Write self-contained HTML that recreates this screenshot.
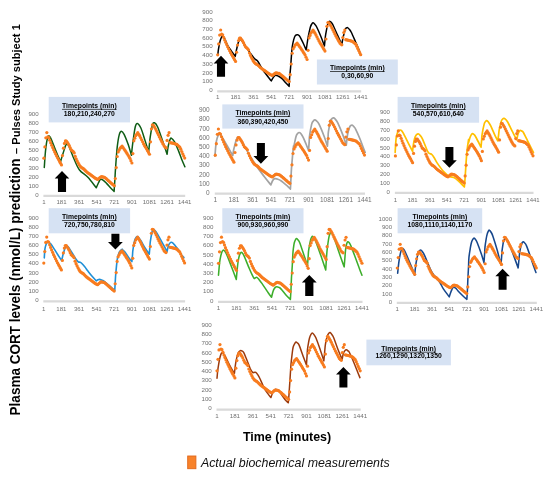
<!DOCTYPE html>
<html lang="en"><head><meta charset="utf-8"><title>Plasma CORT levels prediction</title>
<style>html,body{margin:0;padding:0;background:#fff}body{width:550px;height:477px;overflow:hidden}svg{display:block}</style>
</head><body>
<svg width="550" height="477" viewBox="0 0 550 477" font-family="'Liberation Sans', Arial, sans-serif">
<rect width="550" height="477" fill="#ffffff"/>
<rect x="316.9" y="59.5" width="80.9" height="25" fill="#d6e2f3"/>
<rect x="48.7" y="96.9" width="81.3" height="25.5" fill="#d6e2f3"/>
<rect x="222.3" y="104.4" width="81.2" height="24.2" fill="#d6e2f3"/>
<rect x="397.6" y="96.9" width="81.5" height="25.8" fill="#d6e2f3"/>
<rect x="48.7" y="208.2" width="81.4" height="25.1" fill="#d6e2f3"/>
<rect x="222.3" y="208.2" width="81.2" height="25.1" fill="#d6e2f3"/>
<rect x="397.6" y="208.2" width="84.6" height="25.1" fill="#d6e2f3"/>
<rect x="366.4" y="339.6" width="84.5" height="25.7" fill="#d6e2f3"/>
<g>
<g font-size="6.2" fill="#707070" text-anchor="end">
<text x="212.6" y="92.13">0</text>
<text x="212.6" y="83.4">100</text>
<text x="212.6" y="74.67">200</text>
<text x="212.6" y="65.93">300</text>
<text x="212.6" y="57.2">400</text>
<text x="212.6" y="48.47">500</text>
<text x="212.6" y="39.73">600</text>
<text x="212.6" y="31">700</text>
<text x="212.6" y="22.27">800</text>
<text x="212.6" y="13.53">900</text>
</g>
<line x1="217.2" y1="91.4" x2="361.2" y2="91.4" stroke="#d9d9d9" stroke-width="2.2"/>
<g font-size="6.2" fill="#707070" text-anchor="middle">
<text x="217.7" y="99.43">1</text>
<text x="235.57" y="99.43">181</text>
<text x="253.45" y="99.43">361</text>
<text x="271.32" y="99.43">541</text>
<text x="289.2" y="99.43">721</text>
<text x="307.07" y="99.43">901</text>
<text x="324.95" y="99.43">1081</text>
<text x="342.82" y="99.43">1261</text>
<text x="360.7" y="99.43">1441</text>
</g>
<path d="M217.82 54.9C217.92 53.99 218.2 51.12 218.45 49.44C218.69 47.77 218.94 46.47 219.29 44.83C219.64 43.19 220.09 40.99 220.55 39.59C221 38.19 221.52 36.87 222.01 36.45C222.5 36.03 222.96 36.55 223.48 37.08C224 37.6 224.53 38.3 225.16 39.59C225.79 40.88 226.21 42.91 227.25 44.83C228.3 46.75 230.12 49.2 231.45 51.12C232.77 53.04 234.59 55.49 235.22 56.36L235.22 56.36C235.36 55.66 235.81 53.39 236.06 52.17C236.3 50.95 236.3 50.67 236.69 49.03C237.07 47.38 237.77 43.89 238.36 42.32C238.96 40.74 239.66 39.87 240.25 39.59C240.85 39.31 241.3 39.94 241.93 40.64C242.56 41.34 242.98 42.21 244.03 43.78C245.07 45.36 246.82 48.05 248.22 50.07C249.62 52.1 251.29 54.44 252.41 55.94C253.53 57.45 254.23 58.39 254.93 59.09C255.63 59.79 256.04 59.65 256.6 60.14C257.16 60.63 257.23 60.38 258.28 62.02C259.33 63.67 260.73 66.84 262.89 69.99C265.06 73.13 269.88 79.07 271.28 80.89L271.28 80.89C271.63 80.3 272.68 78.27 273.38 77.33C274.07 76.38 274.6 75.41 275.47 75.23C276.35 75.06 277.57 75.75 278.62 76.28C279.66 76.8 280.54 77.26 281.76 78.38C282.98 79.49 284.73 81.66 285.95 82.99C287.18 84.32 288.57 85.78 289.1 86.34L289.1 86.34C289.2 84.66 289.48 79.35 289.73 76.28C289.97 73.2 290.29 71.21 290.57 67.89C290.85 64.57 291.13 59.86 291.4 56.36C291.68 52.87 291.86 49.72 292.24 46.93C292.63 44.13 293.19 41.51 293.71 39.59C294.23 37.67 294.7 36.2 295.39 35.4C296.07 34.59 297.17 34.7 297.82 34.77C298.47 34.84 298.76 35.19 299.29 35.82C299.81 36.45 300.27 37.22 300.96 38.54C301.66 39.87 302.61 41.86 303.48 43.78C304.35 45.71 305.75 49.03 306.21 50.07L306.21 50.07C306.38 48.85 306.9 45.01 307.25 42.74C307.6 40.46 307.78 39.07 308.3 36.45C308.83 33.83 309.8 29.11 310.4 27.01C310.99 24.92 311.41 24.57 311.87 23.87C312.32 23.17 312.63 22.75 313.12 22.82C313.61 22.89 314.21 23.59 314.8 24.29C315.39 24.99 315.67 24.99 316.69 27.01C317.7 29.04 319.59 33.3 320.88 36.45C322.17 39.59 323.85 44.31 324.44 45.88L324.44 45.88C324.55 44.83 324.86 41.51 325.07 39.59C325.28 37.67 325.25 36.97 325.7 34.35C326.16 31.73 327.27 25.96 327.8 23.87C328.32 21.77 328.5 22.19 328.85 21.77C329.2 21.35 329.44 21.18 329.9 21.35C330.35 21.53 330.98 22.05 331.57 22.82C332.17 23.59 332.45 23.87 333.46 25.96C334.47 28.06 336.25 32.25 337.65 35.4C339.05 38.54 341.15 43.26 341.84 44.83L341.84 44.83C341.95 44.13 342.23 42.04 342.47 40.64C342.72 39.24 342.82 38.37 343.31 36.45C343.8 34.52 344.88 30.54 345.41 29.11C345.93 27.68 346.11 28.1 346.46 27.85C346.81 27.61 347.05 27.43 347.51 27.64C347.96 27.85 348.55 28.34 349.18 29.11C349.81 29.88 350.23 30.16 351.28 32.25C352.33 34.35 354.25 38.89 355.47 41.69C356.69 44.48 357.74 46.75 358.62 49.03C359.49 51.3 360.36 54.27 360.71 55.31" fill="none" stroke="#000000" stroke-width="1.5" stroke-linejoin="round" stroke-linecap="round"/>
<g fill="#f87c1f">
<circle cx="217.7" cy="54.81" r="1.6"/>
<circle cx="218.69" cy="43.89" r="1.6"/>
<circle cx="219.69" cy="35.07" r="1.6"/>
<circle cx="220.68" cy="30" r="1.6"/>
<circle cx="221.67" cy="34.2" r="1.6"/>
<circle cx="222.67" cy="34.81" r="1.6"/>
<circle cx="223.66" cy="37.36" r="1.6"/>
<circle cx="224.65" cy="39.9" r="1.6"/>
<circle cx="225.64" cy="42.27" r="1.6"/>
<circle cx="226.64" cy="44.52" r="1.6"/>
<circle cx="227.63" cy="46.77" r="1.6"/>
<circle cx="228.62" cy="48.75" r="1.6"/>
<circle cx="229.62" cy="50.73" r="1.6"/>
<circle cx="230.61" cy="52.71" r="1.6"/>
<circle cx="231.6" cy="54.53" r="1.6"/>
<circle cx="232.6" cy="56.24" r="1.6"/>
<circle cx="233.59" cy="57.96" r="1.6"/>
<circle cx="234.58" cy="59.7" r="1.6"/>
<circle cx="235.57" cy="61.44" r="1.6"/>
<circle cx="236.57" cy="52.27" r="1.6"/>
<circle cx="237.56" cy="45.11" r="1.6"/>
<circle cx="238.55" cy="40.48" r="1.6"/>
<circle cx="239.55" cy="38.13" r="1.6"/>
<circle cx="240.54" cy="38.16" r="1.6"/>
<circle cx="241.53" cy="39.56" r="1.6"/>
<circle cx="242.53" cy="40.96" r="1.6"/>
<circle cx="243.52" cy="42.68" r="1.6"/>
<circle cx="244.51" cy="44.91" r="1.6"/>
<circle cx="245.51" cy="46.85" r="1.6"/>
<circle cx="246.5" cy="47.66" r="1.6"/>
<circle cx="247.49" cy="48.48" r="1.6"/>
<circle cx="248.48" cy="49.78" r="1.6"/>
<circle cx="249.48" cy="53.02" r="1.6"/>
<circle cx="250.47" cy="55.38" r="1.6"/>
<circle cx="251.46" cy="57.51" r="1.6"/>
<circle cx="252.46" cy="59.35" r="1.6"/>
<circle cx="253.45" cy="61.18" r="1.6"/>
<circle cx="254.44" cy="62.55" r="1.6"/>
<circle cx="255.44" cy="63.6" r="1.6"/>
<circle cx="256.43" cy="64.18" r="1.6"/>
<circle cx="257.42" cy="64.76" r="1.6"/>
<circle cx="258.42" cy="65.51" r="1.6"/>
<circle cx="259.41" cy="66.5" r="1.6"/>
<circle cx="260.4" cy="67.49" r="1.6"/>
<circle cx="261.39" cy="68.36" r="1.6"/>
<circle cx="262.39" cy="69.04" r="1.6"/>
<circle cx="263.38" cy="69.73" r="1.6"/>
<circle cx="264.37" cy="70.42" r="1.6"/>
<circle cx="265.37" cy="71.11" r="1.6"/>
<circle cx="266.36" cy="71.81" r="1.6"/>
<circle cx="267.35" cy="72.52" r="1.6"/>
<circle cx="268.35" cy="73.23" r="1.6"/>
<circle cx="269.34" cy="73.93" r="1.6"/>
<circle cx="270.33" cy="74.51" r="1.6"/>
<circle cx="271.32" cy="75.08" r="1.6"/>
<circle cx="272.32" cy="75.51" r="1.6"/>
<circle cx="273.31" cy="74.71" r="1.6"/>
<circle cx="274.3" cy="73.91" r="1.6"/>
<circle cx="275.3" cy="73.11" r="1.6"/>
<circle cx="276.29" cy="72.82" r="1.6"/>
<circle cx="277.28" cy="73.04" r="1.6"/>
<circle cx="278.28" cy="73.26" r="1.6"/>
<circle cx="279.27" cy="73.47" r="1.6"/>
<circle cx="280.26" cy="74.23" r="1.6"/>
<circle cx="281.26" cy="75.04" r="1.6"/>
<circle cx="282.25" cy="75.85" r="1.6"/>
<circle cx="283.24" cy="76.66" r="1.6"/>
<circle cx="284.23" cy="77.51" r="1.6"/>
<circle cx="285.23" cy="78.39" r="1.6"/>
<circle cx="286.22" cy="79.26" r="1.6"/>
<circle cx="287.21" cy="80.08" r="1.6"/>
<circle cx="288.21" cy="80.85" r="1.6"/>
<circle cx="289.2" cy="81.62" r="1.6"/>
<circle cx="290.19" cy="74.63" r="1.6"/>
<circle cx="291.19" cy="63.98" r="1.6"/>
<circle cx="292.18" cy="53.24" r="1.6"/>
<circle cx="293.17" cy="48.87" r="1.6"/>
<circle cx="294.17" cy="46.99" r="1.6"/>
<circle cx="295.16" cy="45.11" r="1.6"/>
<circle cx="296.15" cy="44.15" r="1.6"/>
<circle cx="297.14" cy="43.19" r="1.6"/>
<circle cx="298.14" cy="44.58" r="1.6"/>
<circle cx="299.13" cy="45.96" r="1.6"/>
<circle cx="300.12" cy="47.35" r="1.6"/>
<circle cx="301.12" cy="48.73" r="1.6"/>
<circle cx="302.11" cy="50.25" r="1.6"/>
<circle cx="303.1" cy="51.78" r="1.6"/>
<circle cx="304.1" cy="53.32" r="1.6"/>
<circle cx="305.09" cy="55" r="1.6"/>
<circle cx="306.08" cy="57.26" r="1.6"/>
<circle cx="307.07" cy="59.52" r="1.6"/>
<circle cx="308.07" cy="50.35" r="1.6"/>
<circle cx="309.06" cy="37.95" r="1.6"/>
<circle cx="310.05" cy="35.42" r="1.6"/>
<circle cx="311.05" cy="32.89" r="1.6"/>
<circle cx="312.04" cy="31.49" r="1.6"/>
<circle cx="313.03" cy="30.09" r="1.6"/>
<circle cx="314.03" cy="31.66" r="1.6"/>
<circle cx="315.02" cy="33.22" r="1.6"/>
<circle cx="316.01" cy="35.03" r="1.6"/>
<circle cx="317.01" cy="37.01" r="1.6"/>
<circle cx="318" cy="38.99" r="1.6"/>
<circle cx="318.99" cy="40.96" r="1.6"/>
<circle cx="319.98" cy="42.67" r="1.6"/>
<circle cx="320.98" cy="44.3" r="1.6"/>
<circle cx="321.97" cy="45.94" r="1.6"/>
<circle cx="322.96" cy="47.57" r="1.6"/>
<circle cx="323.96" cy="49.31" r="1.6"/>
<circle cx="324.95" cy="51.05" r="1.6"/>
<circle cx="325.94" cy="39" r="1.6"/>
<circle cx="326.94" cy="26.34" r="1.6"/>
<circle cx="327.93" cy="22.58" r="1.6"/>
<circle cx="328.92" cy="22.84" r="1.6"/>
<circle cx="329.92" cy="24.43" r="1.6"/>
<circle cx="330.91" cy="26.02" r="1.6"/>
<circle cx="331.9" cy="27.94" r="1.6"/>
<circle cx="332.89" cy="29.95" r="1.6"/>
<circle cx="333.89" cy="31.95" r="1.6"/>
<circle cx="334.88" cy="33.95" r="1.6"/>
<circle cx="335.87" cy="35.88" r="1.6"/>
<circle cx="336.87" cy="37.68" r="1.6"/>
<circle cx="337.86" cy="39.49" r="1.6"/>
<circle cx="338.85" cy="41.29" r="1.6"/>
<circle cx="339.85" cy="43.1" r="1.6"/>
<circle cx="340.84" cy="44.02" r="1.6"/>
<circle cx="341.83" cy="44.85" r="1.6"/>
<circle cx="342.82" cy="37.6" r="1.6"/>
<circle cx="343.82" cy="32.62" r="1.6"/>
<circle cx="344.81" cy="30.09" r="1.6"/>
<circle cx="345.8" cy="39.7" r="1.6"/>
<circle cx="346.8" cy="39.9" r="1.6"/>
<circle cx="347.79" cy="40.11" r="1.6"/>
<circle cx="348.78" cy="40.31" r="1.6"/>
<circle cx="349.78" cy="40.59" r="1.6"/>
<circle cx="350.77" cy="40.86" r="1.6"/>
<circle cx="351.76" cy="41.14" r="1.6"/>
<circle cx="352.76" cy="41.53" r="1.6"/>
<circle cx="353.75" cy="42.41" r="1.6"/>
<circle cx="354.74" cy="43.28" r="1.6"/>
<circle cx="355.73" cy="44.15" r="1.6"/>
<circle cx="356.73" cy="46.13" r="1.6"/>
<circle cx="357.72" cy="48.38" r="1.6"/>
<circle cx="358.71" cy="50.59" r="1.6"/>
<circle cx="359.71" cy="52.66" r="1.6"/>
<circle cx="360.7" cy="54.72" r="1.6"/>
</g>
</g>
<g>
<g font-size="6.1" fill="#707070" text-anchor="end">
<text x="38.6" y="196.9">0</text>
<text x="38.6" y="187.91">100</text>
<text x="38.6" y="178.92">200</text>
<text x="38.6" y="169.93">300</text>
<text x="38.6" y="160.94">400</text>
<text x="38.6" y="151.95">500</text>
<text x="38.6" y="142.96">600</text>
<text x="38.6" y="133.98">700</text>
<text x="38.6" y="124.99">800</text>
<text x="38.6" y="116">900</text>
</g>
<line x1="43.4" y1="195.8" x2="185.2" y2="195.8" stroke="#d9d9d9" stroke-width="2.2"/>
<g font-size="6.1" fill="#707070" text-anchor="middle">
<text x="43.9" y="204.1">1</text>
<text x="61.5" y="204.1">181</text>
<text x="79.1" y="204.1">361</text>
<text x="96.7" y="204.1">541</text>
<text x="114.3" y="204.1">721</text>
<text x="131.9" y="204.1">901</text>
<text x="149.5" y="204.1">1081</text>
<text x="167.1" y="204.1">1261</text>
<text x="184.7" y="204.1">1441</text>
</g>
<path d="M44.29 167.47C44.43 165.45 44.85 158.74 45.13 155.31C45.41 151.89 45.65 149.44 45.96 146.93C46.28 144.41 46.66 141.97 47.01 140.22C47.36 138.47 47.68 137.15 48.06 136.45C48.45 135.75 48.9 135.78 49.32 136.03C49.74 136.27 49.74 136.1 50.58 137.91C51.42 139.73 53.2 144.13 54.35 146.93C55.5 149.72 56.45 152.24 57.49 154.69C58.54 157.13 60.12 160.45 60.64 161.6L60.64 161.6C60.88 160.73 61.58 158.11 62.11 156.36C62.63 154.62 63.23 152.87 63.78 151.12C64.34 149.37 64.94 147.1 65.46 145.88C65.99 144.66 66.44 143.89 66.93 143.78C67.42 143.68 67.87 144.38 68.4 145.25C68.92 146.13 69.1 146.65 70.07 149.03C71.05 151.4 72.69 156.01 74.27 159.51C75.84 163 77.24 167.02 79.51 169.99C81.78 172.96 85.1 174.36 87.89 177.33C90.69 180.3 94.88 186.06 96.28 187.81L96.28 187.81C96.63 187.01 97.68 184.39 98.38 182.99C99.07 181.59 99.7 179.91 100.47 179.42C101.24 178.93 101.94 179.35 102.99 180.05C104.04 180.75 105.43 182.25 106.76 183.62C108.09 184.98 109.73 186.94 110.95 188.23C112.18 189.52 113.57 190.85 114.1 191.37L114.1 191.37C114.24 189.21 114.69 182.29 114.94 178.38C115.18 174.46 115.18 173.13 115.57 167.89C115.95 162.65 116.61 152.52 117.24 146.93C117.87 141.34 118.64 136.97 119.34 134.35C120.04 131.73 120.64 131.21 121.44 131.21C122.23 131.21 122.96 132.08 124.11 134.35C125.25 136.62 127.08 141.34 128.3 144.83C129.52 148.33 130.92 153.57 131.45 155.31L131.45 155.31C131.59 153.92 132.01 149.37 132.29 146.93C132.56 144.48 132.63 143.96 133.12 140.64C133.61 137.32 134.52 129.88 135.22 127.01C135.92 124.15 136.37 123.27 137.32 123.45C138.26 123.62 139.59 125.2 140.88 128.06C142.17 130.93 143.78 136.62 145.07 140.64C146.37 144.66 148.04 150.25 148.64 152.17L148.64 152.17C148.78 150.77 149.2 146.4 149.48 143.78C149.76 141.16 149.83 139.59 150.31 136.45C150.8 133.3 151.71 127.19 152.41 124.92C153.11 122.65 153.63 122.47 154.51 122.82C155.38 123.17 156.25 123.87 157.65 127.01C159.05 130.16 161.32 137.15 162.89 141.69C164.47 146.23 166.39 152.17 167.09 154.27L167.09 154.27C167.23 153.22 167.65 149.72 167.92 147.98C168.2 146.23 168.41 145.18 168.76 143.78C169.11 142.39 169.6 140.53 170.02 139.59C170.44 138.65 170.55 137.77 171.28 138.12C172.01 138.47 173.2 139.52 174.42 141.69C175.65 143.85 177.39 148.15 178.62 151.12C179.84 154.09 180.71 156.89 181.76 159.51C182.81 162.13 184.38 165.62 184.91 166.84" fill="none" stroke="#0e5c14" stroke-width="1.5" stroke-linejoin="round" stroke-linecap="round"/>
<g fill="#f87c1f">
<circle cx="43.9" cy="158.14" r="1.6"/>
<circle cx="44.88" cy="146.9" r="1.6"/>
<circle cx="45.86" cy="137.82" r="1.6"/>
<circle cx="46.83" cy="132.61" r="1.6"/>
<circle cx="47.81" cy="136.92" r="1.6"/>
<circle cx="48.79" cy="137.55" r="1.6"/>
<circle cx="49.77" cy="140.17" r="1.6"/>
<circle cx="50.74" cy="142.8" r="1.6"/>
<circle cx="51.72" cy="145.23" r="1.6"/>
<circle cx="52.7" cy="147.55" r="1.6"/>
<circle cx="53.68" cy="149.87" r="1.6"/>
<circle cx="54.66" cy="151.9" r="1.6"/>
<circle cx="55.63" cy="153.94" r="1.6"/>
<circle cx="56.61" cy="155.97" r="1.6"/>
<circle cx="57.59" cy="157.85" r="1.6"/>
<circle cx="58.57" cy="159.62" r="1.6"/>
<circle cx="59.54" cy="161.38" r="1.6"/>
<circle cx="60.52" cy="163.17" r="1.6"/>
<circle cx="61.5" cy="164.97" r="1.6"/>
<circle cx="62.48" cy="155.53" r="1.6"/>
<circle cx="63.46" cy="148.16" r="1.6"/>
<circle cx="64.43" cy="143.39" r="1.6"/>
<circle cx="65.41" cy="140.97" r="1.6"/>
<circle cx="66.39" cy="141" r="1.6"/>
<circle cx="67.37" cy="142.44" r="1.6"/>
<circle cx="68.34" cy="143.88" r="1.6"/>
<circle cx="69.32" cy="145.66" r="1.6"/>
<circle cx="70.3" cy="147.95" r="1.6"/>
<circle cx="71.28" cy="149.94" r="1.6"/>
<circle cx="72.26" cy="150.78" r="1.6"/>
<circle cx="73.23" cy="151.62" r="1.6"/>
<circle cx="74.21" cy="152.96" r="1.6"/>
<circle cx="75.19" cy="156.3" r="1.6"/>
<circle cx="76.17" cy="158.73" r="1.6"/>
<circle cx="77.14" cy="160.92" r="1.6"/>
<circle cx="78.12" cy="162.81" r="1.6"/>
<circle cx="79.1" cy="164.7" r="1.6"/>
<circle cx="80.08" cy="166.1" r="1.6"/>
<circle cx="81.06" cy="167.19" r="1.6"/>
<circle cx="82.03" cy="167.78" r="1.6"/>
<circle cx="83.01" cy="168.38" r="1.6"/>
<circle cx="83.99" cy="169.15" r="1.6"/>
<circle cx="84.97" cy="170.17" r="1.6"/>
<circle cx="85.94" cy="171.19" r="1.6"/>
<circle cx="86.92" cy="172.08" r="1.6"/>
<circle cx="87.9" cy="172.79" r="1.6"/>
<circle cx="88.88" cy="173.49" r="1.6"/>
<circle cx="89.86" cy="174.2" r="1.6"/>
<circle cx="90.83" cy="174.91" r="1.6"/>
<circle cx="91.81" cy="175.64" r="1.6"/>
<circle cx="92.79" cy="176.37" r="1.6"/>
<circle cx="93.77" cy="177.09" r="1.6"/>
<circle cx="94.74" cy="177.82" r="1.6"/>
<circle cx="95.72" cy="178.41" r="1.6"/>
<circle cx="96.7" cy="179" r="1.6"/>
<circle cx="97.68" cy="179.45" r="1.6"/>
<circle cx="98.66" cy="178.62" r="1.6"/>
<circle cx="99.63" cy="177.8" r="1.6"/>
<circle cx="100.61" cy="176.98" r="1.6"/>
<circle cx="101.59" cy="176.68" r="1.6"/>
<circle cx="102.57" cy="176.9" r="1.6"/>
<circle cx="103.54" cy="177.13" r="1.6"/>
<circle cx="104.52" cy="177.35" r="1.6"/>
<circle cx="105.5" cy="178.12" r="1.6"/>
<circle cx="106.48" cy="178.96" r="1.6"/>
<circle cx="107.46" cy="179.79" r="1.6"/>
<circle cx="108.43" cy="180.63" r="1.6"/>
<circle cx="109.41" cy="181.51" r="1.6"/>
<circle cx="110.39" cy="182.41" r="1.6"/>
<circle cx="111.37" cy="183.31" r="1.6"/>
<circle cx="112.34" cy="184.15" r="1.6"/>
<circle cx="113.32" cy="184.94" r="1.6"/>
<circle cx="114.3" cy="185.73" r="1.6"/>
<circle cx="115.28" cy="178.54" r="1.6"/>
<circle cx="116.26" cy="167.57" r="1.6"/>
<circle cx="117.23" cy="156.52" r="1.6"/>
<circle cx="118.21" cy="152.02" r="1.6"/>
<circle cx="119.19" cy="150.09" r="1.6"/>
<circle cx="120.17" cy="148.16" r="1.6"/>
<circle cx="121.14" cy="147.17" r="1.6"/>
<circle cx="122.12" cy="146.18" r="1.6"/>
<circle cx="123.1" cy="147.61" r="1.6"/>
<circle cx="124.08" cy="149.03" r="1.6"/>
<circle cx="125.06" cy="150.46" r="1.6"/>
<circle cx="126.03" cy="151.88" r="1.6"/>
<circle cx="127.01" cy="153.45" r="1.6"/>
<circle cx="127.99" cy="155.02" r="1.6"/>
<circle cx="128.97" cy="156.6" r="1.6"/>
<circle cx="129.94" cy="158.33" r="1.6"/>
<circle cx="130.92" cy="160.66" r="1.6"/>
<circle cx="131.9" cy="162.99" r="1.6"/>
<circle cx="132.88" cy="153.55" r="1.6"/>
<circle cx="133.86" cy="140.79" r="1.6"/>
<circle cx="134.83" cy="138.18" r="1.6"/>
<circle cx="135.81" cy="135.57" r="1.6"/>
<circle cx="136.79" cy="134.14" r="1.6"/>
<circle cx="137.77" cy="132.7" r="1.6"/>
<circle cx="138.74" cy="134.31" r="1.6"/>
<circle cx="139.72" cy="135.92" r="1.6"/>
<circle cx="140.7" cy="137.78" r="1.6"/>
<circle cx="141.68" cy="139.82" r="1.6"/>
<circle cx="142.66" cy="141.85" r="1.6"/>
<circle cx="143.63" cy="143.89" r="1.6"/>
<circle cx="144.61" cy="145.64" r="1.6"/>
<circle cx="145.59" cy="147.32" r="1.6"/>
<circle cx="146.57" cy="149" r="1.6"/>
<circle cx="147.54" cy="150.69" r="1.6"/>
<circle cx="148.52" cy="152.47" r="1.6"/>
<circle cx="149.5" cy="154.27" r="1.6"/>
<circle cx="150.48" cy="141.87" r="1.6"/>
<circle cx="151.46" cy="128.83" r="1.6"/>
<circle cx="152.43" cy="124.97" r="1.6"/>
<circle cx="153.41" cy="125.24" r="1.6"/>
<circle cx="154.39" cy="126.87" r="1.6"/>
<circle cx="155.37" cy="128.51" r="1.6"/>
<circle cx="156.34" cy="130.48" r="1.6"/>
<circle cx="157.32" cy="132.55" r="1.6"/>
<circle cx="158.3" cy="134.61" r="1.6"/>
<circle cx="159.28" cy="136.67" r="1.6"/>
<circle cx="160.26" cy="138.65" r="1.6"/>
<circle cx="161.23" cy="140.51" r="1.6"/>
<circle cx="162.21" cy="142.37" r="1.6"/>
<circle cx="163.19" cy="144.23" r="1.6"/>
<circle cx="164.17" cy="146.09" r="1.6"/>
<circle cx="165.14" cy="147.04" r="1.6"/>
<circle cx="166.12" cy="147.89" r="1.6"/>
<circle cx="167.1" cy="140.43" r="1.6"/>
<circle cx="168.08" cy="135.3" r="1.6"/>
<circle cx="169.06" cy="132.7" r="1.6"/>
<circle cx="170.03" cy="142.59" r="1.6"/>
<circle cx="171.01" cy="142.8" r="1.6"/>
<circle cx="171.99" cy="143.01" r="1.6"/>
<circle cx="172.97" cy="143.22" r="1.6"/>
<circle cx="173.94" cy="143.5" r="1.6"/>
<circle cx="174.92" cy="143.78" r="1.6"/>
<circle cx="175.9" cy="144.07" r="1.6"/>
<circle cx="176.88" cy="144.47" r="1.6"/>
<circle cx="177.86" cy="145.37" r="1.6"/>
<circle cx="178.83" cy="146.27" r="1.6"/>
<circle cx="179.81" cy="147.17" r="1.6"/>
<circle cx="180.79" cy="149.2" r="1.6"/>
<circle cx="181.77" cy="151.52" r="1.6"/>
<circle cx="182.74" cy="153.8" r="1.6"/>
<circle cx="183.72" cy="155.92" r="1.6"/>
<circle cx="184.7" cy="158.05" r="1.6"/>
</g>
</g>
<g>
<g font-size="6.47" fill="#707070" text-anchor="end">
<text x="209.7" y="195.03">0</text>
<text x="209.7" y="185.83">100</text>
<text x="209.7" y="176.63">200</text>
<text x="209.7" y="167.43">300</text>
<text x="209.7" y="158.23">400</text>
<text x="209.7" y="149.03">500</text>
<text x="209.7" y="139.83">600</text>
<text x="209.7" y="130.63">700</text>
<text x="209.7" y="121.43">800</text>
<text x="209.7" y="112.23">900</text>
</g>
<line x1="214.8" y1="193.7" x2="365" y2="193.7" stroke="#d9d9d9" stroke-width="2.2"/>
<g font-size="6.47" fill="#707070" text-anchor="middle">
<text x="215.3" y="202.43">1</text>
<text x="233.95" y="202.43">181</text>
<text x="252.6" y="202.43">361</text>
<text x="271.25" y="202.43">541</text>
<text x="289.9" y="202.43">721</text>
<text x="308.55" y="202.43">901</text>
<text x="327.2" y="202.43">1081</text>
<text x="345.85" y="202.43">1261</text>
<text x="364.5" y="202.43">1441</text>
</g>
<path d="M214.92 156.18C215.09 154.16 215.61 146.93 215.96 144.03C216.31 141.13 216.66 140.18 217.01 138.78C217.36 137.39 217.68 136.41 218.06 135.64C218.45 134.87 218.9 134.31 219.32 134.17C219.74 134.03 219.74 133.68 220.58 134.8C221.42 135.92 223.02 138.64 224.35 140.88C225.68 143.12 227.15 145.77 228.54 148.22C229.94 150.66 232.04 154.33 232.74 155.56L232.74 155.56C232.91 154.51 233.43 151.01 233.78 149.27C234.13 147.52 234.41 146.65 234.83 145.07C235.25 143.5 235.78 141.13 236.3 139.83C236.82 138.54 237.42 137.56 237.98 137.32C238.54 137.07 238.96 137.6 239.65 138.36C240.35 139.13 240.88 139.76 242.17 141.93C243.46 144.1 245.14 147.52 247.41 151.36C249.68 155.21 253 160.8 255.8 164.99C258.59 169.18 261.67 173.2 264.18 176.52C266.7 179.84 269.77 183.51 270.89 184.91L270.89 184.91C271.17 184.21 271.94 181.76 272.57 180.71C273.2 179.66 273.9 178.9 274.66 178.62C275.43 178.34 276.13 178.69 277.18 179.04C278.23 179.39 279.28 179.56 280.95 180.71C282.63 181.87 285.67 184.56 287.24 185.95C288.82 187.35 289.86 188.57 290.39 189.1L290.39 189.1C290.49 187.18 290.84 180.89 291.02 177.57C291.19 174.25 291.19 172.68 291.44 169.18C291.68 165.69 292.13 160.45 292.48 156.6C292.83 152.76 293.37 147.52 293.53 146.12C293.69 144.72 293.04 149.79 293.45 148.22C293.85 146.65 295.27 139.13 295.96 136.69C296.66 134.24 297.12 134.24 297.64 133.54C298.17 132.84 298.58 132.49 299.11 132.49C299.63 132.49 300.09 132.67 300.79 133.54C301.48 134.42 302.43 135.99 303.3 137.74C304.18 139.48 305.15 141.93 306.03 144.03C306.9 146.12 308.12 149.27 308.54 150.31L308.54 150.31C308.65 148.92 309 144.37 309.17 141.93C309.35 139.48 309.17 138.61 309.59 135.64C310.01 132.67 311.06 126.55 311.69 124.11C312.32 121.66 312.84 121.66 313.36 120.96C313.89 120.27 314.31 119.92 314.83 119.92C315.36 119.92 315.81 120.27 316.51 120.96C317.21 121.66 317.73 121.49 319.03 124.11C320.32 126.73 322.87 133.02 324.27 136.69C325.66 140.36 326.89 144.55 327.41 146.12L327.41 146.12C327.52 144.72 327.87 140.18 328.04 137.74C328.21 135.29 328.04 134.24 328.46 131.45C328.88 128.65 329.93 123.13 330.56 120.96C331.18 118.8 331.71 118.97 332.23 118.45C332.76 117.92 333.18 117.68 333.7 117.82C334.22 117.96 334.68 118.41 335.38 119.29C336.08 120.16 336.6 120.34 337.89 123.06C339.19 125.79 341.74 131.97 343.13 135.64C344.53 139.31 345.75 143.5 346.28 145.07L346.28 145.07C346.42 143.85 346.84 139.83 347.12 137.74C347.4 135.64 347.47 134.42 347.96 132.49C348.45 130.57 349.35 127.43 350.05 126.21C350.75 124.98 351.52 125.09 352.15 125.16C352.78 125.23 353.23 125.93 353.83 126.62C354.42 127.32 354.7 127.32 355.71 129.35C356.73 131.38 358.68 135.81 359.91 138.78C361.13 141.75 362.18 144.9 363.05 147.17C363.92 149.44 364.8 151.54 365.15 152.41" fill="none" stroke="#a3a3a3" stroke-width="1.7" stroke-linejoin="round" stroke-linecap="round"/>
<g fill="#f87c1f">
<circle cx="215.3" cy="155.15" r="1.6"/>
<circle cx="216.34" cy="143.65" r="1.6"/>
<circle cx="217.37" cy="134.36" r="1.6"/>
<circle cx="218.41" cy="129.02" r="1.6"/>
<circle cx="219.44" cy="133.44" r="1.6"/>
<circle cx="220.48" cy="134.08" r="1.6"/>
<circle cx="221.52" cy="136.77" r="1.6"/>
<circle cx="222.55" cy="139.45" r="1.6"/>
<circle cx="223.59" cy="141.95" r="1.6"/>
<circle cx="224.62" cy="144.32" r="1.6"/>
<circle cx="225.66" cy="146.69" r="1.6"/>
<circle cx="226.7" cy="148.77" r="1.6"/>
<circle cx="227.73" cy="150.86" r="1.6"/>
<circle cx="228.77" cy="152.94" r="1.6"/>
<circle cx="229.81" cy="154.86" r="1.6"/>
<circle cx="230.84" cy="156.67" r="1.6"/>
<circle cx="231.88" cy="158.47" r="1.6"/>
<circle cx="232.91" cy="160.3" r="1.6"/>
<circle cx="233.95" cy="162.14" r="1.6"/>
<circle cx="234.99" cy="152.48" r="1.6"/>
<circle cx="236.02" cy="144.94" r="1.6"/>
<circle cx="237.06" cy="140.06" r="1.6"/>
<circle cx="238.09" cy="137.58" r="1.6"/>
<circle cx="239.13" cy="137.62" r="1.6"/>
<circle cx="240.17" cy="139.09" r="1.6"/>
<circle cx="241.2" cy="140.56" r="1.6"/>
<circle cx="242.24" cy="142.38" r="1.6"/>
<circle cx="243.28" cy="144.72" r="1.6"/>
<circle cx="244.31" cy="146.77" r="1.6"/>
<circle cx="245.35" cy="147.63" r="1.6"/>
<circle cx="246.38" cy="148.49" r="1.6"/>
<circle cx="247.42" cy="149.86" r="1.6"/>
<circle cx="248.46" cy="153.27" r="1.6"/>
<circle cx="249.49" cy="155.76" r="1.6"/>
<circle cx="250.53" cy="158" r="1.6"/>
<circle cx="251.56" cy="159.94" r="1.6"/>
<circle cx="252.6" cy="161.87" r="1.6"/>
<circle cx="253.64" cy="163.31" r="1.6"/>
<circle cx="254.67" cy="164.41" r="1.6"/>
<circle cx="255.71" cy="165.03" r="1.6"/>
<circle cx="256.74" cy="165.64" r="1.6"/>
<circle cx="257.78" cy="166.43" r="1.6"/>
<circle cx="258.82" cy="167.47" r="1.6"/>
<circle cx="259.85" cy="168.51" r="1.6"/>
<circle cx="260.89" cy="169.43" r="1.6"/>
<circle cx="261.93" cy="170.15" r="1.6"/>
<circle cx="262.96" cy="170.87" r="1.6"/>
<circle cx="264" cy="171.59" r="1.6"/>
<circle cx="265.03" cy="172.32" r="1.6"/>
<circle cx="266.07" cy="173.07" r="1.6"/>
<circle cx="267.11" cy="173.81" r="1.6"/>
<circle cx="268.14" cy="174.56" r="1.6"/>
<circle cx="269.18" cy="175.3" r="1.6"/>
<circle cx="270.21" cy="175.9" r="1.6"/>
<circle cx="271.25" cy="176.51" r="1.6"/>
<circle cx="272.29" cy="176.96" r="1.6"/>
<circle cx="273.32" cy="176.12" r="1.6"/>
<circle cx="274.36" cy="175.28" r="1.6"/>
<circle cx="275.39" cy="174.43" r="1.6"/>
<circle cx="276.43" cy="174.13" r="1.6"/>
<circle cx="277.47" cy="174.36" r="1.6"/>
<circle cx="278.5" cy="174.59" r="1.6"/>
<circle cx="279.54" cy="174.82" r="1.6"/>
<circle cx="280.58" cy="175.61" r="1.6"/>
<circle cx="281.61" cy="176.46" r="1.6"/>
<circle cx="282.65" cy="177.32" r="1.6"/>
<circle cx="283.68" cy="178.17" r="1.6"/>
<circle cx="284.72" cy="179.07" r="1.6"/>
<circle cx="285.76" cy="179.99" r="1.6"/>
<circle cx="286.79" cy="180.91" r="1.6"/>
<circle cx="287.83" cy="181.78" r="1.6"/>
<circle cx="288.86" cy="182.59" r="1.6"/>
<circle cx="289.9" cy="183.4" r="1.6"/>
<circle cx="290.94" cy="176.04" r="1.6"/>
<circle cx="291.97" cy="164.81" r="1.6"/>
<circle cx="293.01" cy="153.5" r="1.6"/>
<circle cx="294.04" cy="148.9" r="1.6"/>
<circle cx="295.08" cy="146.92" r="1.6"/>
<circle cx="296.12" cy="144.94" r="1.6"/>
<circle cx="297.15" cy="143.93" r="1.6"/>
<circle cx="298.19" cy="142.92" r="1.6"/>
<circle cx="299.23" cy="144.37" r="1.6"/>
<circle cx="300.26" cy="145.83" r="1.6"/>
<circle cx="301.3" cy="147.29" r="1.6"/>
<circle cx="302.33" cy="148.75" r="1.6"/>
<circle cx="303.37" cy="150.35" r="1.6"/>
<circle cx="304.41" cy="151.97" r="1.6"/>
<circle cx="305.44" cy="153.58" r="1.6"/>
<circle cx="306.48" cy="155.35" r="1.6"/>
<circle cx="307.51" cy="157.74" r="1.6"/>
<circle cx="308.55" cy="160.12" r="1.6"/>
<circle cx="309.59" cy="150.46" r="1.6"/>
<circle cx="310.62" cy="137.4" r="1.6"/>
<circle cx="311.66" cy="134.73" r="1.6"/>
<circle cx="312.69" cy="132.06" r="1.6"/>
<circle cx="313.73" cy="130.59" r="1.6"/>
<circle cx="314.77" cy="129.12" r="1.6"/>
<circle cx="315.8" cy="130.76" r="1.6"/>
<circle cx="316.84" cy="132.41" r="1.6"/>
<circle cx="317.88" cy="134.32" r="1.6"/>
<circle cx="318.91" cy="136.4" r="1.6"/>
<circle cx="319.95" cy="138.49" r="1.6"/>
<circle cx="320.98" cy="140.57" r="1.6"/>
<circle cx="322.02" cy="142.36" r="1.6"/>
<circle cx="323.06" cy="144.08" r="1.6"/>
<circle cx="324.09" cy="145.81" r="1.6"/>
<circle cx="325.13" cy="147.53" r="1.6"/>
<circle cx="326.16" cy="149.36" r="1.6"/>
<circle cx="327.2" cy="151.2" r="1.6"/>
<circle cx="328.24" cy="138.5" r="1.6"/>
<circle cx="329.27" cy="125.16" r="1.6"/>
<circle cx="330.31" cy="121.2" r="1.6"/>
<circle cx="331.34" cy="121.48" r="1.6"/>
<circle cx="332.38" cy="123.15" r="1.6"/>
<circle cx="333.42" cy="124.83" r="1.6"/>
<circle cx="334.45" cy="126.85" r="1.6"/>
<circle cx="335.49" cy="128.96" r="1.6"/>
<circle cx="336.52" cy="131.07" r="1.6"/>
<circle cx="337.56" cy="133.18" r="1.6"/>
<circle cx="338.6" cy="135.21" r="1.6"/>
<circle cx="339.63" cy="137.11" r="1.6"/>
<circle cx="340.67" cy="139.02" r="1.6"/>
<circle cx="341.71" cy="140.92" r="1.6"/>
<circle cx="342.74" cy="142.82" r="1.6"/>
<circle cx="343.78" cy="143.79" r="1.6"/>
<circle cx="344.81" cy="144.66" r="1.6"/>
<circle cx="345.85" cy="137.03" r="1.6"/>
<circle cx="346.89" cy="131.78" r="1.6"/>
<circle cx="347.92" cy="129.12" r="1.6"/>
<circle cx="348.96" cy="139.24" r="1.6"/>
<circle cx="349.99" cy="139.45" r="1.6"/>
<circle cx="351.03" cy="139.67" r="1.6"/>
<circle cx="352.07" cy="139.88" r="1.6"/>
<circle cx="353.1" cy="140.17" r="1.6"/>
<circle cx="354.14" cy="140.46" r="1.6"/>
<circle cx="355.17" cy="140.75" r="1.6"/>
<circle cx="356.21" cy="141.17" r="1.6"/>
<circle cx="357.25" cy="142.09" r="1.6"/>
<circle cx="358.28" cy="143.01" r="1.6"/>
<circle cx="359.32" cy="143.93" r="1.6"/>
<circle cx="360.36" cy="146.01" r="1.6"/>
<circle cx="361.39" cy="148.38" r="1.6"/>
<circle cx="362.43" cy="150.71" r="1.6"/>
<circle cx="363.46" cy="152.89" r="1.6"/>
<circle cx="364.5" cy="155.06" r="1.6"/>
</g>
</g>
<g>
<g font-size="5.97" fill="#707070" text-anchor="end">
<text x="389.9" y="193.75">0</text>
<text x="389.9" y="184.93">100</text>
<text x="389.9" y="176.1">200</text>
<text x="389.9" y="167.28">300</text>
<text x="389.9" y="158.46">400</text>
<text x="389.9" y="149.64">500</text>
<text x="389.9" y="140.81">600</text>
<text x="389.9" y="131.99">700</text>
<text x="389.9" y="123.17">800</text>
<text x="389.9" y="114.35">900</text>
</g>
<line x1="394.9" y1="192.9" x2="533.5" y2="192.9" stroke="#d9d9d9" stroke-width="2.2"/>
<g font-size="5.97" fill="#707070" text-anchor="middle">
<text x="395.4" y="201.65">1</text>
<text x="412.6" y="201.65">181</text>
<text x="429.8" y="201.65">361</text>
<text x="447" y="201.65">541</text>
<text x="464.2" y="201.65">721</text>
<text x="481.4" y="201.65">901</text>
<text x="498.6" y="201.65">1081</text>
<text x="515.8" y="201.65">1261</text>
<text x="533" y="201.65">1441</text>
</g>
<path d="M395.16 152.41C395.23 151.19 395.4 147.52 395.58 145.07C395.75 142.63 395.93 139.66 396.21 137.74C396.48 135.81 396.9 134.66 397.25 133.54C397.6 132.42 397.78 131.62 398.3 131.03C398.83 130.43 399.8 129.98 400.4 129.98C400.99 129.98 401.34 130.43 401.87 131.03C402.39 131.62 402.39 131.38 403.54 133.54C404.7 135.71 407.28 141.06 408.78 144.03C410.29 147 411.93 150.14 412.56 151.36L412.56 151.36C412.66 150.49 412.94 147.87 413.19 146.12C413.43 144.37 413.68 142.45 414.03 140.88C414.37 139.31 414.86 137.74 415.28 136.69C415.7 135.64 415.98 135.05 416.54 134.59C417.1 134.14 418.01 133.79 418.64 133.96C419.27 134.14 419.69 134.84 420.31 135.64C420.94 136.44 421.19 136.16 422.41 138.78C423.63 141.4 426.43 148.92 427.65 151.36C428.87 153.81 429.05 152.94 429.75 153.46C430.45 153.98 431.08 153.74 431.84 154.51C432.61 155.28 433.49 156.67 434.36 158.07C435.23 159.47 435.58 160.69 437.09 162.89C438.59 165.09 441.28 169.01 443.38 171.28C445.47 173.55 447.92 175.47 449.66 176.52C451.41 177.57 452.46 176.87 453.86 177.57C455.26 178.27 456.3 179.14 458.05 180.71C459.8 182.29 463.29 185.95 464.34 187L464.34 187C464.44 185.78 464.79 181.94 464.97 179.66C465.14 177.39 465.07 177.92 465.39 173.38C465.7 168.83 466.33 158 466.86 152.41C467.38 146.82 468.27 141.4 468.53 139.83C468.8 138.26 468.22 143.33 468.45 142.98C468.68 142.63 469.43 139.13 469.92 137.74C470.41 136.34 470.93 135.29 471.38 134.59C471.84 133.89 472.15 133.51 472.64 133.54C473.13 133.58 473.72 134.1 474.32 134.8C474.91 135.5 475.09 135.67 476.21 137.74C477.32 139.8 480.22 145.6 481.03 147.17L481.03 147.17C481.13 145.95 481.48 141.93 481.66 139.83C481.83 137.74 481.66 137.21 482.08 134.59C482.49 131.97 483.58 126.31 484.17 124.11C484.77 121.91 485.22 121.98 485.64 121.38C486.06 120.79 486.23 120.44 486.69 120.55C487.14 120.65 487.67 121.07 488.36 122.01C489.06 122.96 489.76 123.93 490.88 126.21C492 128.48 493.92 133.19 495.07 135.64C496.23 138.09 497.34 140.01 497.8 140.88L497.8 140.88C497.94 139.83 498.39 136.51 498.64 134.59C498.88 132.67 498.81 131.62 499.27 129.35C499.72 127.08 500.77 122.71 501.36 120.96C501.96 119.22 502.38 119.29 502.83 118.87C503.28 118.45 503.6 118.34 504.09 118.45C504.58 118.55 505.17 118.9 505.77 119.5C506.36 120.09 506.46 119.85 507.65 122.01C508.84 124.18 511.39 129.52 512.89 132.49C514.4 135.46 516.04 138.61 516.67 139.83L516.67 139.83C516.81 139.2 517.26 137.11 517.51 136.06C517.75 135.01 517.85 134.31 518.13 133.54C518.41 132.77 518.83 131.97 519.18 131.45C519.53 130.92 519.81 130.47 520.23 130.4C520.65 130.33 521.17 130.68 521.7 131.03C522.22 131.38 522.4 130.85 523.38 132.49C524.35 134.14 526.35 138.43 527.57 140.88C528.79 143.33 529.73 145.25 530.71 147.17C531.69 149.09 532.98 151.54 533.44 152.41" fill="none" stroke="#ffc000" stroke-width="1.7" stroke-linejoin="round" stroke-linecap="round"/>
<g fill="#f87c1f">
<circle cx="395.4" cy="155.93" r="1.6"/>
<circle cx="396.36" cy="144.91" r="1.6"/>
<circle cx="397.31" cy="136" r="1.6"/>
<circle cx="398.27" cy="130.88" r="1.6"/>
<circle cx="399.22" cy="135.11" r="1.6"/>
<circle cx="400.18" cy="135.73" r="1.6"/>
<circle cx="401.13" cy="138.31" r="1.6"/>
<circle cx="402.09" cy="140.88" r="1.6"/>
<circle cx="403.04" cy="143.27" r="1.6"/>
<circle cx="404" cy="145.55" r="1.6"/>
<circle cx="404.96" cy="147.82" r="1.6"/>
<circle cx="405.91" cy="149.82" r="1.6"/>
<circle cx="406.87" cy="151.81" r="1.6"/>
<circle cx="407.82" cy="153.81" r="1.6"/>
<circle cx="408.78" cy="155.65" r="1.6"/>
<circle cx="409.73" cy="157.39" r="1.6"/>
<circle cx="410.69" cy="159.12" r="1.6"/>
<circle cx="411.64" cy="160.88" r="1.6"/>
<circle cx="412.6" cy="162.64" r="1.6"/>
<circle cx="413.56" cy="153.38" r="1.6"/>
<circle cx="414.51" cy="146.14" r="1.6"/>
<circle cx="415.47" cy="141.47" r="1.6"/>
<circle cx="416.42" cy="139.08" r="1.6"/>
<circle cx="417.38" cy="139.12" r="1.6"/>
<circle cx="418.33" cy="140.53" r="1.6"/>
<circle cx="419.29" cy="141.94" r="1.6"/>
<circle cx="420.24" cy="143.69" r="1.6"/>
<circle cx="421.2" cy="145.93" r="1.6"/>
<circle cx="422.16" cy="147.89" r="1.6"/>
<circle cx="423.11" cy="148.72" r="1.6"/>
<circle cx="424.07" cy="149.54" r="1.6"/>
<circle cx="425.02" cy="150.86" r="1.6"/>
<circle cx="425.98" cy="154.13" r="1.6"/>
<circle cx="426.93" cy="156.51" r="1.6"/>
<circle cx="427.89" cy="158.67" r="1.6"/>
<circle cx="428.84" cy="160.52" r="1.6"/>
<circle cx="429.8" cy="162.38" r="1.6"/>
<circle cx="430.76" cy="163.75" r="1.6"/>
<circle cx="431.71" cy="164.82" r="1.6"/>
<circle cx="432.67" cy="165.4" r="1.6"/>
<circle cx="433.62" cy="165.99" r="1.6"/>
<circle cx="434.58" cy="166.75" r="1.6"/>
<circle cx="435.53" cy="167.74" r="1.6"/>
<circle cx="436.49" cy="168.74" r="1.6"/>
<circle cx="437.44" cy="169.62" r="1.6"/>
<circle cx="438.4" cy="170.32" r="1.6"/>
<circle cx="439.36" cy="171.01" r="1.6"/>
<circle cx="440.31" cy="171.7" r="1.6"/>
<circle cx="441.27" cy="172.4" r="1.6"/>
<circle cx="442.22" cy="173.11" r="1.6"/>
<circle cx="443.18" cy="173.83" r="1.6"/>
<circle cx="444.13" cy="174.54" r="1.6"/>
<circle cx="445.09" cy="175.26" r="1.6"/>
<circle cx="446.04" cy="175.83" r="1.6"/>
<circle cx="447" cy="176.41" r="1.6"/>
<circle cx="447.96" cy="176.85" r="1.6"/>
<circle cx="448.91" cy="176.04" r="1.6"/>
<circle cx="449.87" cy="175.23" r="1.6"/>
<circle cx="450.82" cy="174.42" r="1.6"/>
<circle cx="451.78" cy="174.13" r="1.6"/>
<circle cx="452.73" cy="174.35" r="1.6"/>
<circle cx="453.69" cy="174.57" r="1.6"/>
<circle cx="454.64" cy="174.79" r="1.6"/>
<circle cx="455.6" cy="175.55" r="1.6"/>
<circle cx="456.56" cy="176.37" r="1.6"/>
<circle cx="457.51" cy="177.19" r="1.6"/>
<circle cx="458.47" cy="178.01" r="1.6"/>
<circle cx="459.42" cy="178.87" r="1.6"/>
<circle cx="460.38" cy="179.75" r="1.6"/>
<circle cx="461.33" cy="180.64" r="1.6"/>
<circle cx="462.29" cy="181.47" r="1.6"/>
<circle cx="463.24" cy="182.24" r="1.6"/>
<circle cx="464.2" cy="183.02" r="1.6"/>
<circle cx="465.16" cy="175.96" r="1.6"/>
<circle cx="466.11" cy="165.2" r="1.6"/>
<circle cx="467.07" cy="154.35" r="1.6"/>
<circle cx="468.02" cy="149.94" r="1.6"/>
<circle cx="468.98" cy="148.04" r="1.6"/>
<circle cx="469.93" cy="146.14" r="1.6"/>
<circle cx="470.89" cy="145.17" r="1.6"/>
<circle cx="471.84" cy="144.2" r="1.6"/>
<circle cx="472.8" cy="145.6" r="1.6"/>
<circle cx="473.76" cy="147" r="1.6"/>
<circle cx="474.71" cy="148.4" r="1.6"/>
<circle cx="475.67" cy="149.8" r="1.6"/>
<circle cx="476.62" cy="151.33" r="1.6"/>
<circle cx="477.58" cy="152.88" r="1.6"/>
<circle cx="478.53" cy="154.43" r="1.6"/>
<circle cx="479.49" cy="156.13" r="1.6"/>
<circle cx="480.44" cy="158.41" r="1.6"/>
<circle cx="481.4" cy="160.7" r="1.6"/>
<circle cx="482.36" cy="151.44" r="1.6"/>
<circle cx="483.31" cy="138.91" r="1.6"/>
<circle cx="484.27" cy="136.35" r="1.6"/>
<circle cx="485.22" cy="133.79" r="1.6"/>
<circle cx="486.18" cy="132.38" r="1.6"/>
<circle cx="487.13" cy="130.97" r="1.6"/>
<circle cx="488.09" cy="132.55" r="1.6"/>
<circle cx="489.04" cy="134.13" r="1.6"/>
<circle cx="490" cy="135.96" r="1.6"/>
<circle cx="490.96" cy="137.96" r="1.6"/>
<circle cx="491.91" cy="139.95" r="1.6"/>
<circle cx="492.87" cy="141.95" r="1.6"/>
<circle cx="493.82" cy="143.67" r="1.6"/>
<circle cx="494.78" cy="145.32" r="1.6"/>
<circle cx="495.73" cy="146.97" r="1.6"/>
<circle cx="496.69" cy="148.62" r="1.6"/>
<circle cx="497.64" cy="150.38" r="1.6"/>
<circle cx="498.6" cy="152.14" r="1.6"/>
<circle cx="499.56" cy="139.97" r="1.6"/>
<circle cx="500.51" cy="127.17" r="1.6"/>
<circle cx="501.47" cy="123.38" r="1.6"/>
<circle cx="502.42" cy="123.65" r="1.6"/>
<circle cx="503.38" cy="125.25" r="1.6"/>
<circle cx="504.33" cy="126.85" r="1.6"/>
<circle cx="505.29" cy="128.79" r="1.6"/>
<circle cx="506.24" cy="130.82" r="1.6"/>
<circle cx="507.2" cy="132.84" r="1.6"/>
<circle cx="508.16" cy="134.87" r="1.6"/>
<circle cx="509.11" cy="136.81" r="1.6"/>
<circle cx="510.07" cy="138.64" r="1.6"/>
<circle cx="511.02" cy="140.46" r="1.6"/>
<circle cx="511.98" cy="142.28" r="1.6"/>
<circle cx="512.93" cy="144.11" r="1.6"/>
<circle cx="513.89" cy="145.04" r="1.6"/>
<circle cx="514.84" cy="145.88" r="1.6"/>
<circle cx="515.8" cy="138.56" r="1.6"/>
<circle cx="516.76" cy="133.53" r="1.6"/>
<circle cx="517.71" cy="130.97" r="1.6"/>
<circle cx="518.67" cy="140.67" r="1.6"/>
<circle cx="519.62" cy="140.88" r="1.6"/>
<circle cx="520.58" cy="141.08" r="1.6"/>
<circle cx="521.53" cy="141.29" r="1.6"/>
<circle cx="522.49" cy="141.57" r="1.6"/>
<circle cx="523.44" cy="141.85" r="1.6"/>
<circle cx="524.4" cy="142.13" r="1.6"/>
<circle cx="525.36" cy="142.53" r="1.6"/>
<circle cx="526.31" cy="143.41" r="1.6"/>
<circle cx="527.27" cy="144.29" r="1.6"/>
<circle cx="528.22" cy="145.17" r="1.6"/>
<circle cx="529.18" cy="147.17" r="1.6"/>
<circle cx="530.13" cy="149.44" r="1.6"/>
<circle cx="531.09" cy="151.68" r="1.6"/>
<circle cx="532.04" cy="153.76" r="1.6"/>
<circle cx="533" cy="155.85" r="1.6"/>
</g>
</g>
<g>
<g font-size="6.1" fill="#707070" text-anchor="end">
<text x="38.6" y="302">0</text>
<text x="38.6" y="292.86">100</text>
<text x="38.6" y="283.73">200</text>
<text x="38.6" y="274.6">300</text>
<text x="38.6" y="265.46">400</text>
<text x="38.6" y="256.33">500</text>
<text x="38.6" y="247.2">600</text>
<text x="38.6" y="238.06">700</text>
<text x="38.6" y="228.93">800</text>
<text x="38.6" y="219.8">900</text>
</g>
<line x1="43.3" y1="301.3" x2="185.1" y2="301.3" stroke="#d9d9d9" stroke-width="2.2"/>
<g font-size="6.1" fill="#707070" text-anchor="middle">
<text x="43.8" y="310.7">1</text>
<text x="61.4" y="310.7">181</text>
<text x="79" y="310.7">361</text>
<text x="96.6" y="310.7">541</text>
<text x="114.2" y="310.7">721</text>
<text x="131.8" y="310.7">901</text>
<text x="149.4" y="310.7">1081</text>
<text x="167" y="310.7">1261</text>
<text x="184.6" y="310.7">1441</text>
</g>
<path d="M44.29 257.83C44.39 256.36 44.64 251.19 44.92 249.03C45.2 246.86 45.61 245.88 45.96 244.83C46.31 243.78 46.59 243.19 47.01 242.74C47.43 242.28 47.96 242 48.48 242.11C49 242.21 49.53 242.74 50.16 243.36C50.79 243.99 51.03 244.06 52.25 245.88C53.48 247.7 55.92 251.82 57.49 254.27C59.07 256.71 60.99 259.51 61.69 260.56L61.69 260.56C61.86 259.75 62.39 257.13 62.74 255.73C63.09 254.34 63.4 253.46 63.78 252.17C64.17 250.88 64.62 249.03 65.04 247.98C65.46 246.93 65.85 246.13 66.3 245.88C66.75 245.64 67.31 246.16 67.77 246.51C68.22 246.86 67.94 246.33 69.03 247.98C70.11 249.62 72.94 254.27 74.27 256.36C75.59 258.46 76.29 259.61 76.99 260.56C77.69 261.5 77.94 261.74 78.46 262.02C78.98 262.3 79.61 262.02 80.14 262.23C80.66 262.44 80.84 262.51 81.6 263.28C82.37 264.05 83.7 265.55 84.75 266.84C85.8 268.14 86.67 269.47 87.89 271.04C89.12 272.61 90.69 274.64 92.09 276.28C93.48 277.92 95.58 280.12 96.28 280.89L96.28 280.89C96.56 280.72 97.43 280.09 97.96 279.84C98.48 279.6 98.83 279.39 99.42 279.42C100.02 279.46 100.65 279.7 101.52 280.05C102.39 280.4 103.09 280.33 104.66 281.52C106.24 282.71 109.28 285.68 110.95 287.18C112.63 288.68 114.1 289.98 114.73 290.53L114.73 290.53C114.8 289.38 115.01 285.99 115.15 283.62C115.29 281.24 115.36 279.07 115.57 276.28C115.78 273.48 116.13 269.64 116.4 266.84C116.68 264.05 116.93 261.43 117.24 259.51C117.56 257.59 117.94 256.54 118.29 255.31C118.64 254.09 118.89 253.04 119.34 252.17C119.79 251.3 120.49 250.53 121.02 250.07C121.54 249.62 122.32 249.55 122.48 249.44C122.65 249.34 121.85 249.27 122.01 249.44C122.18 249.62 122.96 250.04 123.48 250.49C124 250.95 124.18 250.84 125.16 252.17C126.14 253.5 128.23 256.89 129.35 258.46C130.47 260.03 131.45 261.08 131.87 261.6L131.87 261.6C131.97 260.56 132.32 257.24 132.49 255.31C132.67 253.39 132.56 252.52 132.91 250.07C133.26 247.63 134.07 242.74 134.59 240.64C135.12 238.54 135.6 238.19 136.06 237.49C136.51 236.8 136.83 236.38 137.32 236.45C137.81 236.52 138.4 237.22 138.99 237.91C139.59 238.61 139.87 238.96 140.88 240.64C141.89 242.32 143.68 245.71 145.07 247.98C146.47 250.25 148.57 253.22 149.27 254.27L149.27 254.27C149.37 253.04 149.72 249.03 149.9 246.93C150.07 244.83 149.97 244.13 150.31 241.69C150.66 239.24 151.54 234.18 151.99 232.25C152.45 230.33 152.69 230.58 153.04 230.16C153.39 229.74 153.63 229.53 154.09 229.74C154.54 229.95 155.17 230.65 155.77 231.42C156.36 232.18 156.46 232.29 157.65 234.35C158.84 236.41 161.32 240.92 162.89 243.78C164.47 246.65 166.39 250.25 167.09 251.54L167.09 251.54C167.23 250.88 167.65 248.68 167.92 247.56C168.2 246.44 168.41 245.6 168.76 244.83C169.11 244.06 169.6 243.36 170.02 242.95C170.44 242.53 170.79 242.28 171.28 242.32C171.77 242.35 172.43 242.74 172.96 243.16C173.48 243.57 173.48 243.68 174.42 244.83C175.37 245.99 177.39 248.33 178.62 250.07C179.84 251.82 180.89 254.09 181.76 255.31C182.63 256.54 183.51 257.06 183.86 257.41" fill="none" stroke="#1f8fd6" stroke-width="1.6" stroke-linejoin="round" stroke-linecap="round"/>
<g fill="#f87c1f">
<circle cx="43.8" cy="263.03" r="1.6"/>
<circle cx="44.78" cy="251.61" r="1.6"/>
<circle cx="45.76" cy="242.39" r="1.6"/>
<circle cx="46.73" cy="237.09" r="1.6"/>
<circle cx="47.71" cy="241.48" r="1.6"/>
<circle cx="48.69" cy="242.12" r="1.6"/>
<circle cx="49.67" cy="244.78" r="1.6"/>
<circle cx="50.64" cy="247.44" r="1.6"/>
<circle cx="51.62" cy="249.92" r="1.6"/>
<circle cx="52.6" cy="252.28" r="1.6"/>
<circle cx="53.58" cy="254.63" r="1.6"/>
<circle cx="54.56" cy="256.7" r="1.6"/>
<circle cx="55.53" cy="258.77" r="1.6"/>
<circle cx="56.51" cy="260.83" r="1.6"/>
<circle cx="57.49" cy="262.74" r="1.6"/>
<circle cx="58.47" cy="264.53" r="1.6"/>
<circle cx="59.44" cy="266.33" r="1.6"/>
<circle cx="60.42" cy="268.15" r="1.6"/>
<circle cx="61.4" cy="269.97" r="1.6"/>
<circle cx="62.38" cy="260.38" r="1.6"/>
<circle cx="63.36" cy="252.89" r="1.6"/>
<circle cx="64.33" cy="248.05" r="1.6"/>
<circle cx="65.31" cy="245.59" r="1.6"/>
<circle cx="66.29" cy="245.62" r="1.6"/>
<circle cx="67.27" cy="247.08" r="1.6"/>
<circle cx="68.24" cy="248.55" r="1.6"/>
<circle cx="69.22" cy="250.35" r="1.6"/>
<circle cx="70.2" cy="252.68" r="1.6"/>
<circle cx="71.18" cy="254.71" r="1.6"/>
<circle cx="72.16" cy="255.56" r="1.6"/>
<circle cx="73.13" cy="256.41" r="1.6"/>
<circle cx="74.11" cy="257.77" r="1.6"/>
<circle cx="75.09" cy="261.17" r="1.6"/>
<circle cx="76.07" cy="263.63" r="1.6"/>
<circle cx="77.04" cy="265.86" r="1.6"/>
<circle cx="78.02" cy="267.78" r="1.6"/>
<circle cx="79" cy="269.7" r="1.6"/>
<circle cx="79.98" cy="271.13" r="1.6"/>
<circle cx="80.96" cy="272.23" r="1.6"/>
<circle cx="81.93" cy="272.83" r="1.6"/>
<circle cx="82.91" cy="273.44" r="1.6"/>
<circle cx="83.89" cy="274.22" r="1.6"/>
<circle cx="84.87" cy="275.26" r="1.6"/>
<circle cx="85.84" cy="276.29" r="1.6"/>
<circle cx="86.82" cy="277.2" r="1.6"/>
<circle cx="87.8" cy="277.92" r="1.6"/>
<circle cx="88.78" cy="278.64" r="1.6"/>
<circle cx="89.76" cy="279.35" r="1.6"/>
<circle cx="90.73" cy="280.08" r="1.6"/>
<circle cx="91.71" cy="280.82" r="1.6"/>
<circle cx="92.69" cy="281.55" r="1.6"/>
<circle cx="93.67" cy="282.29" r="1.6"/>
<circle cx="94.64" cy="283.03" r="1.6"/>
<circle cx="95.62" cy="283.63" r="1.6"/>
<circle cx="96.6" cy="284.23" r="1.6"/>
<circle cx="97.58" cy="284.68" r="1.6"/>
<circle cx="98.56" cy="283.85" r="1.6"/>
<circle cx="99.53" cy="283.01" r="1.6"/>
<circle cx="100.51" cy="282.17" r="1.6"/>
<circle cx="101.49" cy="281.87" r="1.6"/>
<circle cx="102.47" cy="282.1" r="1.6"/>
<circle cx="103.44" cy="282.33" r="1.6"/>
<circle cx="104.42" cy="282.55" r="1.6"/>
<circle cx="105.4" cy="283.34" r="1.6"/>
<circle cx="106.38" cy="284.19" r="1.6"/>
<circle cx="107.36" cy="285.04" r="1.6"/>
<circle cx="108.33" cy="285.88" r="1.6"/>
<circle cx="109.31" cy="286.78" r="1.6"/>
<circle cx="110.29" cy="287.69" r="1.6"/>
<circle cx="111.27" cy="288.6" r="1.6"/>
<circle cx="112.24" cy="289.46" r="1.6"/>
<circle cx="113.22" cy="290.27" r="1.6"/>
<circle cx="114.2" cy="291.07" r="1.6"/>
<circle cx="115.18" cy="283.76" r="1.6"/>
<circle cx="116.16" cy="272.62" r="1.6"/>
<circle cx="117.13" cy="261.39" r="1.6"/>
<circle cx="118.11" cy="256.82" r="1.6"/>
<circle cx="119.09" cy="254.86" r="1.6"/>
<circle cx="120.07" cy="252.89" r="1.6"/>
<circle cx="121.04" cy="251.89" r="1.6"/>
<circle cx="122.02" cy="250.88" r="1.6"/>
<circle cx="123" cy="252.33" r="1.6"/>
<circle cx="123.98" cy="253.78" r="1.6"/>
<circle cx="124.96" cy="255.23" r="1.6"/>
<circle cx="125.93" cy="256.68" r="1.6"/>
<circle cx="126.91" cy="258.26" r="1.6"/>
<circle cx="127.89" cy="259.87" r="1.6"/>
<circle cx="128.87" cy="261.47" r="1.6"/>
<circle cx="129.84" cy="263.23" r="1.6"/>
<circle cx="130.82" cy="265.6" r="1.6"/>
<circle cx="131.8" cy="267.96" r="1.6"/>
<circle cx="132.78" cy="258.37" r="1.6"/>
<circle cx="133.76" cy="245.4" r="1.6"/>
<circle cx="134.73" cy="242.76" r="1.6"/>
<circle cx="135.71" cy="240.11" r="1.6"/>
<circle cx="136.69" cy="238.65" r="1.6"/>
<circle cx="137.67" cy="237.18" r="1.6"/>
<circle cx="138.64" cy="238.82" r="1.6"/>
<circle cx="139.62" cy="240.46" r="1.6"/>
<circle cx="140.6" cy="242.35" r="1.6"/>
<circle cx="141.58" cy="244.42" r="1.6"/>
<circle cx="142.56" cy="246.49" r="1.6"/>
<circle cx="143.53" cy="248.55" r="1.6"/>
<circle cx="144.51" cy="250.33" r="1.6"/>
<circle cx="145.49" cy="252.04" r="1.6"/>
<circle cx="146.47" cy="253.75" r="1.6"/>
<circle cx="147.44" cy="255.46" r="1.6"/>
<circle cx="148.42" cy="257.28" r="1.6"/>
<circle cx="149.4" cy="259.1" r="1.6"/>
<circle cx="150.38" cy="246.5" r="1.6"/>
<circle cx="151.36" cy="233.26" r="1.6"/>
<circle cx="152.33" cy="229.33" r="1.6"/>
<circle cx="153.31" cy="229.6" r="1.6"/>
<circle cx="154.29" cy="231.26" r="1.6"/>
<circle cx="155.27" cy="232.92" r="1.6"/>
<circle cx="156.24" cy="234.93" r="1.6"/>
<circle cx="157.22" cy="237.03" r="1.6"/>
<circle cx="158.2" cy="239.13" r="1.6"/>
<circle cx="159.18" cy="241.22" r="1.6"/>
<circle cx="160.16" cy="243.24" r="1.6"/>
<circle cx="161.13" cy="245.12" r="1.6"/>
<circle cx="162.11" cy="247.01" r="1.6"/>
<circle cx="163.09" cy="248.9" r="1.6"/>
<circle cx="164.07" cy="250.79" r="1.6"/>
<circle cx="165.04" cy="251.75" r="1.6"/>
<circle cx="166.02" cy="252.62" r="1.6"/>
<circle cx="167" cy="245.04" r="1.6"/>
<circle cx="167.98" cy="239.83" r="1.6"/>
<circle cx="168.96" cy="237.18" r="1.6"/>
<circle cx="169.93" cy="247.23" r="1.6"/>
<circle cx="170.91" cy="247.44" r="1.6"/>
<circle cx="171.89" cy="247.66" r="1.6"/>
<circle cx="172.87" cy="247.87" r="1.6"/>
<circle cx="173.84" cy="248.16" r="1.6"/>
<circle cx="174.82" cy="248.45" r="1.6"/>
<circle cx="175.8" cy="248.74" r="1.6"/>
<circle cx="176.78" cy="249.15" r="1.6"/>
<circle cx="177.76" cy="250.06" r="1.6"/>
<circle cx="178.73" cy="250.98" r="1.6"/>
<circle cx="179.71" cy="251.89" r="1.6"/>
<circle cx="180.69" cy="253.95" r="1.6"/>
<circle cx="181.67" cy="256.31" r="1.6"/>
<circle cx="182.64" cy="258.62" r="1.6"/>
<circle cx="183.62" cy="260.78" r="1.6"/>
<circle cx="184.6" cy="262.94" r="1.6"/>
</g>
</g>
<g>
<g font-size="6.22" fill="#707070" text-anchor="end">
<text x="213.4" y="302.64">0</text>
<text x="213.4" y="293.44">100</text>
<text x="213.4" y="284.24">200</text>
<text x="213.4" y="275.04">300</text>
<text x="213.4" y="265.84">400</text>
<text x="213.4" y="256.64">500</text>
<text x="213.4" y="247.44">600</text>
<text x="213.4" y="238.24">700</text>
<text x="213.4" y="229.04">800</text>
<text x="213.4" y="219.84">900</text>
</g>
<line x1="218" y1="301.9" x2="362.5" y2="301.9" stroke="#d9d9d9" stroke-width="2.2"/>
<g font-size="6.22" fill="#707070" text-anchor="middle">
<text x="218.5" y="310.44">1</text>
<text x="236.44" y="310.44">181</text>
<text x="254.38" y="310.44">361</text>
<text x="272.31" y="310.44">541</text>
<text x="290.25" y="310.44">721</text>
<text x="308.19" y="310.44">901</text>
<text x="326.12" y="310.44">1081</text>
<text x="344.06" y="310.44">1261</text>
<text x="362" y="310.44">1441</text>
</g>
<path d="M218.48 275.23C218.58 274.01 218.9 270.16 219.11 267.89C219.32 265.62 219.46 263.6 219.74 261.6C220.02 259.61 220.44 257.52 220.79 255.94C221.14 254.37 221.48 253.08 221.83 252.17C222.18 251.26 222.53 250.84 222.88 250.49C223.23 250.14 223.48 249.76 223.93 250.07C224.39 250.39 225.01 251.33 225.61 252.38C226.2 253.43 226.31 253.43 227.49 256.36C228.68 259.3 231.27 266.15 232.74 269.99C234.2 273.83 235.71 277.85 236.3 279.42L236.3 279.42C236.4 278.2 236.72 274.36 236.93 272.09C237.14 269.81 237.31 267.82 237.56 265.8C237.8 263.77 238.08 261.67 238.4 259.93C238.71 258.18 239.1 256.47 239.44 255.31C239.79 254.16 240.14 253.53 240.49 253.01C240.84 252.48 241.16 252.06 241.54 252.17C241.93 252.27 242.34 252.94 242.8 253.64C243.25 254.34 243.15 253.81 244.27 256.36C245.38 258.91 248.11 265.69 249.51 268.94C250.9 272.19 251.88 274.29 252.65 275.86C253.42 277.43 253.67 278.06 254.12 278.38C254.57 278.69 254.92 277.92 255.38 277.75C255.83 277.57 256.25 277.05 256.84 277.33C257.44 277.61 258.07 278.38 258.94 279.42C259.81 280.47 260.51 281.35 262.09 283.62C263.66 285.89 266.8 290.78 268.38 293.05C269.95 295.32 271 296.54 271.52 297.24L271.52 297.24C271.69 296.54 272.22 294.27 272.57 293.05C272.92 291.83 273.2 290.81 273.62 289.91C274.04 289 274.56 288.12 275.08 287.6C275.61 287.08 276.13 286.8 276.76 286.76C277.39 286.73 278.16 287.04 278.86 287.39C279.56 287.74 279.73 287.56 280.95 288.86C282.18 290.15 284.62 293.4 286.19 295.15C287.77 296.89 289.69 298.64 290.39 299.34L290.39 299.34C290.49 297.59 290.84 292.35 291.02 288.86C291.19 285.36 291.23 282.22 291.44 278.38C291.65 274.53 292.03 269.99 292.27 265.8C292.52 261.6 292.71 256.19 292.9 253.22C293.1 250.25 293.22 249.72 293.45 247.98C293.68 246.23 293.94 244.13 294.29 242.74C294.64 241.34 295.16 240.29 295.55 239.59C295.93 238.89 296.17 238.47 296.59 238.54C297.01 238.61 297.54 239.31 298.06 240.01C298.58 240.71 298.69 240.01 299.74 242.74C300.79 245.46 303.06 252.52 304.35 256.36C305.64 260.21 306.97 264.22 307.49 265.8L307.49 265.8C307.6 264.4 307.95 259.86 308.12 257.41C308.3 254.97 308.3 253.22 308.54 251.12C308.79 249.03 309.24 246.75 309.59 244.83C309.94 242.91 310.29 240.88 310.64 239.59C310.99 238.3 311.34 237.6 311.69 237.08C312.04 236.55 312.32 236.27 312.74 236.45C313.16 236.62 313.68 237.25 314.2 238.12C314.73 239 314.73 238.65 315.88 241.69C317.03 244.73 319.48 251.65 321.12 256.36C322.76 261.08 324.97 267.72 325.73 269.99L325.73 269.99C325.84 268.24 326.15 262.65 326.36 259.51C326.57 256.36 326.71 253.92 326.99 251.12C327.27 248.33 327.69 245.18 328.04 242.74C328.39 240.29 328.74 238.02 329.09 236.45C329.44 234.87 329.79 234 330.14 233.3C330.49 232.6 330.73 232.01 331.18 232.25C331.64 232.5 332.27 233.55 332.86 234.77C333.46 235.99 333.56 236.17 334.75 239.59C335.94 243.02 338.42 250.77 339.99 255.31C341.56 259.86 343.48 264.92 344.18 266.84L344.18 266.84C344.32 265.1 344.78 259.33 345.02 256.36C345.27 253.39 345.37 251.12 345.65 249.03C345.93 246.93 346.35 245.01 346.7 243.78C347.05 242.56 347.33 241.86 347.75 241.69C348.17 241.51 348.69 242.04 349.21 242.74C349.74 243.43 349.81 243.26 350.89 245.88C351.97 248.5 354.21 254.44 355.71 258.46C357.22 262.48 358.86 267.19 359.91 269.99C360.95 272.78 361.65 274.36 362 275.23" fill="none" stroke="#3dae2b" stroke-width="1.55" stroke-linejoin="round" stroke-linecap="round"/>
<g fill="#f87c1f">
<circle cx="218.5" cy="263.35" r="1.6"/>
<circle cx="219.5" cy="251.85" r="1.6"/>
<circle cx="220.49" cy="242.56" r="1.6"/>
<circle cx="221.49" cy="237.22" r="1.6"/>
<circle cx="222.49" cy="241.64" r="1.6"/>
<circle cx="223.48" cy="242.28" r="1.6"/>
<circle cx="224.48" cy="244.97" r="1.6"/>
<circle cx="225.48" cy="247.65" r="1.6"/>
<circle cx="226.47" cy="250.15" r="1.6"/>
<circle cx="227.47" cy="252.52" r="1.6"/>
<circle cx="228.47" cy="254.89" r="1.6"/>
<circle cx="229.46" cy="256.97" r="1.6"/>
<circle cx="230.46" cy="259.06" r="1.6"/>
<circle cx="231.45" cy="261.14" r="1.6"/>
<circle cx="232.45" cy="263.06" r="1.6"/>
<circle cx="233.45" cy="264.87" r="1.6"/>
<circle cx="234.44" cy="266.67" r="1.6"/>
<circle cx="235.44" cy="268.5" r="1.6"/>
<circle cx="236.44" cy="270.34" r="1.6"/>
<circle cx="237.43" cy="260.68" r="1.6"/>
<circle cx="238.43" cy="253.14" r="1.6"/>
<circle cx="239.43" cy="248.26" r="1.6"/>
<circle cx="240.42" cy="245.78" r="1.6"/>
<circle cx="241.42" cy="245.82" r="1.6"/>
<circle cx="242.42" cy="247.29" r="1.6"/>
<circle cx="243.41" cy="248.76" r="1.6"/>
<circle cx="244.41" cy="250.58" r="1.6"/>
<circle cx="245.41" cy="252.92" r="1.6"/>
<circle cx="246.4" cy="254.97" r="1.6"/>
<circle cx="247.4" cy="255.83" r="1.6"/>
<circle cx="248.4" cy="256.69" r="1.6"/>
<circle cx="249.39" cy="258.06" r="1.6"/>
<circle cx="250.39" cy="261.47" r="1.6"/>
<circle cx="251.39" cy="263.96" r="1.6"/>
<circle cx="252.38" cy="266.2" r="1.6"/>
<circle cx="253.38" cy="268.14" r="1.6"/>
<circle cx="254.38" cy="270.07" r="1.6"/>
<circle cx="255.37" cy="271.51" r="1.6"/>
<circle cx="256.37" cy="272.61" r="1.6"/>
<circle cx="257.36" cy="273.23" r="1.6"/>
<circle cx="258.36" cy="273.84" r="1.6"/>
<circle cx="259.36" cy="274.63" r="1.6"/>
<circle cx="260.35" cy="275.67" r="1.6"/>
<circle cx="261.35" cy="276.71" r="1.6"/>
<circle cx="262.35" cy="277.63" r="1.6"/>
<circle cx="263.34" cy="278.35" r="1.6"/>
<circle cx="264.34" cy="279.07" r="1.6"/>
<circle cx="265.34" cy="279.79" r="1.6"/>
<circle cx="266.33" cy="280.52" r="1.6"/>
<circle cx="267.33" cy="281.27" r="1.6"/>
<circle cx="268.33" cy="282.01" r="1.6"/>
<circle cx="269.32" cy="282.76" r="1.6"/>
<circle cx="270.32" cy="283.5" r="1.6"/>
<circle cx="271.32" cy="284.1" r="1.6"/>
<circle cx="272.31" cy="284.71" r="1.6"/>
<circle cx="273.31" cy="285.16" r="1.6"/>
<circle cx="274.31" cy="284.32" r="1.6"/>
<circle cx="275.3" cy="283.48" r="1.6"/>
<circle cx="276.3" cy="282.63" r="1.6"/>
<circle cx="277.3" cy="282.33" r="1.6"/>
<circle cx="278.29" cy="282.56" r="1.6"/>
<circle cx="279.29" cy="282.79" r="1.6"/>
<circle cx="280.28" cy="283.02" r="1.6"/>
<circle cx="281.28" cy="283.81" r="1.6"/>
<circle cx="282.28" cy="284.66" r="1.6"/>
<circle cx="283.27" cy="285.52" r="1.6"/>
<circle cx="284.27" cy="286.37" r="1.6"/>
<circle cx="285.27" cy="287.27" r="1.6"/>
<circle cx="286.26" cy="288.19" r="1.6"/>
<circle cx="287.26" cy="289.11" r="1.6"/>
<circle cx="288.26" cy="289.98" r="1.6"/>
<circle cx="289.25" cy="290.79" r="1.6"/>
<circle cx="290.25" cy="291.6" r="1.6"/>
<circle cx="291.25" cy="284.24" r="1.6"/>
<circle cx="292.24" cy="273.01" r="1.6"/>
<circle cx="293.24" cy="261.7" r="1.6"/>
<circle cx="294.24" cy="257.1" r="1.6"/>
<circle cx="295.23" cy="255.12" r="1.6"/>
<circle cx="296.23" cy="253.14" r="1.6"/>
<circle cx="297.23" cy="252.13" r="1.6"/>
<circle cx="298.22" cy="251.12" r="1.6"/>
<circle cx="299.22" cy="252.57" r="1.6"/>
<circle cx="300.22" cy="254.03" r="1.6"/>
<circle cx="301.21" cy="255.49" r="1.6"/>
<circle cx="302.21" cy="256.95" r="1.6"/>
<circle cx="303.2" cy="258.55" r="1.6"/>
<circle cx="304.2" cy="260.17" r="1.6"/>
<circle cx="305.2" cy="261.78" r="1.6"/>
<circle cx="306.19" cy="263.55" r="1.6"/>
<circle cx="307.19" cy="265.94" r="1.6"/>
<circle cx="308.19" cy="268.32" r="1.6"/>
<circle cx="309.18" cy="258.66" r="1.6"/>
<circle cx="310.18" cy="245.6" r="1.6"/>
<circle cx="311.18" cy="242.93" r="1.6"/>
<circle cx="312.17" cy="240.26" r="1.6"/>
<circle cx="313.17" cy="238.79" r="1.6"/>
<circle cx="314.17" cy="237.32" r="1.6"/>
<circle cx="315.16" cy="238.96" r="1.6"/>
<circle cx="316.16" cy="240.61" r="1.6"/>
<circle cx="317.16" cy="242.52" r="1.6"/>
<circle cx="318.15" cy="244.6" r="1.6"/>
<circle cx="319.15" cy="246.69" r="1.6"/>
<circle cx="320.15" cy="248.77" r="1.6"/>
<circle cx="321.14" cy="250.56" r="1.6"/>
<circle cx="322.14" cy="252.28" r="1.6"/>
<circle cx="323.14" cy="254.01" r="1.6"/>
<circle cx="324.13" cy="255.73" r="1.6"/>
<circle cx="325.13" cy="257.56" r="1.6"/>
<circle cx="326.12" cy="259.4" r="1.6"/>
<circle cx="327.12" cy="246.7" r="1.6"/>
<circle cx="328.12" cy="233.36" r="1.6"/>
<circle cx="329.11" cy="229.4" r="1.6"/>
<circle cx="330.11" cy="229.68" r="1.6"/>
<circle cx="331.11" cy="231.35" r="1.6"/>
<circle cx="332.1" cy="233.03" r="1.6"/>
<circle cx="333.1" cy="235.05" r="1.6"/>
<circle cx="334.1" cy="237.16" r="1.6"/>
<circle cx="335.09" cy="239.27" r="1.6"/>
<circle cx="336.09" cy="241.38" r="1.6"/>
<circle cx="337.09" cy="243.41" r="1.6"/>
<circle cx="338.08" cy="245.31" r="1.6"/>
<circle cx="339.08" cy="247.22" r="1.6"/>
<circle cx="340.08" cy="249.12" r="1.6"/>
<circle cx="341.07" cy="251.02" r="1.6"/>
<circle cx="342.07" cy="251.99" r="1.6"/>
<circle cx="343.07" cy="252.86" r="1.6"/>
<circle cx="344.06" cy="245.23" r="1.6"/>
<circle cx="345.06" cy="239.98" r="1.6"/>
<circle cx="346.06" cy="237.32" r="1.6"/>
<circle cx="347.05" cy="247.44" r="1.6"/>
<circle cx="348.05" cy="247.65" r="1.6"/>
<circle cx="349.05" cy="247.87" r="1.6"/>
<circle cx="350.04" cy="248.08" r="1.6"/>
<circle cx="351.04" cy="248.37" r="1.6"/>
<circle cx="352.03" cy="248.66" r="1.6"/>
<circle cx="353.03" cy="248.95" r="1.6"/>
<circle cx="354.03" cy="249.37" r="1.6"/>
<circle cx="355.02" cy="250.29" r="1.6"/>
<circle cx="356.02" cy="251.21" r="1.6"/>
<circle cx="357.02" cy="252.13" r="1.6"/>
<circle cx="358.01" cy="254.21" r="1.6"/>
<circle cx="359.01" cy="256.58" r="1.6"/>
<circle cx="360.01" cy="258.91" r="1.6"/>
<circle cx="361" cy="261.09" r="1.6"/>
<circle cx="362" cy="263.26" r="1.6"/>
</g>
</g>
<g>
<g font-size="6.03" fill="#707070" text-anchor="end">
<text x="392" y="304.07">0</text>
<text x="392" y="295.74">100</text>
<text x="392" y="287.41">200</text>
<text x="392" y="279.08">300</text>
<text x="392" y="270.75">400</text>
<text x="392" y="262.42">500</text>
<text x="392" y="254.09">600</text>
<text x="392" y="245.76">700</text>
<text x="392" y="237.43">800</text>
<text x="392" y="229.1">900</text>
<text x="392" y="220.77">1000</text>
</g>
<line x1="396.8" y1="302.9" x2="536.8" y2="302.9" stroke="#d9d9d9" stroke-width="2.2"/>
<g font-size="6.03" fill="#707070" text-anchor="middle">
<text x="397.3" y="311.17">1</text>
<text x="414.68" y="311.17">181</text>
<text x="432.05" y="311.17">361</text>
<text x="449.43" y="311.17">541</text>
<text x="466.8" y="311.17">721</text>
<text x="484.17" y="311.17">901</text>
<text x="501.55" y="311.17">1081</text>
<text x="518.92" y="311.17">1261</text>
<text x="536.3" y="311.17">1441</text>
</g>
<path d="M397.67 273.13C397.78 272.09 398.09 268.77 398.3 266.84C398.51 264.92 398.65 263.53 398.93 261.6C399.21 259.68 399.63 257.06 399.98 255.31C400.33 253.57 400.68 252.17 401.03 251.12C401.38 250.07 401.73 249.44 402.08 249.03C402.42 248.61 402.67 248.26 403.12 248.61C403.58 248.96 404.21 250 404.8 251.12C405.39 252.24 405.5 252.52 406.69 255.31C407.88 258.11 410.6 264.57 411.93 267.89C413.26 271.21 414.2 274.01 414.65 275.23L414.65 275.23C414.76 274.18 415.04 271.04 415.28 268.94C415.53 266.84 415.77 264.75 416.12 262.65C416.47 260.56 416.96 258.11 417.38 256.36C417.8 254.62 418.22 253.18 418.64 252.17C419.06 251.16 419.51 250.63 419.9 250.28C420.28 249.93 420.49 249.79 420.94 250.07C421.4 250.35 422.03 251.09 422.62 251.96C423.21 252.83 423.14 252.31 424.51 255.31C425.87 258.32 429.22 266.67 430.8 269.99C432.37 273.31 432.89 273.83 433.94 275.23C434.99 276.63 436.04 277.08 437.09 278.38C438.13 279.67 439.18 281.24 440.23 282.99C441.28 284.73 441.87 286.55 443.38 288.86C444.88 291.16 448.27 295.5 449.25 296.82L449.25 296.82C449.45 296.19 450.08 294.2 450.5 293.05C450.92 291.9 451.38 290.78 451.76 289.91C452.15 289.03 452.46 288.26 452.81 287.81C453.16 287.35 453.33 287.08 453.86 287.18C454.38 287.29 455.26 287.81 455.95 288.44C456.65 289.07 456.83 289.66 458.05 290.95C459.27 292.25 461.82 294.8 463.29 296.19C464.76 297.59 466.26 298.82 466.86 299.34L466.86 299.34C466.96 297.59 467.31 292.35 467.48 288.86C467.66 285.36 467.73 282.04 467.9 278.38C468.08 274.71 468.36 270.34 468.53 266.84C468.71 263.35 468.65 260.56 468.95 257.41C469.25 254.27 469.93 250.42 470.34 247.98C470.74 245.53 471 244.13 471.38 242.74C471.77 241.34 472.19 240.36 472.64 239.59C473.1 238.82 473.62 238.12 474.11 238.12C474.6 238.12 475.05 238.82 475.58 239.59C476.1 240.36 476.28 240.29 477.25 242.74C478.23 245.18 480.33 250.95 481.45 254.27C482.56 257.59 483.54 261.25 483.96 262.65L483.96 262.65C484.07 261.25 484.42 256.89 484.59 254.27C484.77 251.65 484.77 249.37 485.01 246.93C485.26 244.48 485.71 241.69 486.06 239.59C486.41 237.49 486.72 235.75 487.11 234.35C487.49 232.95 487.98 231.9 488.36 231.21C488.75 230.51 488.96 229.98 489.41 230.16C489.87 230.33 490.5 231.21 491.09 232.25C491.68 233.3 491.96 233.48 492.98 236.45C493.99 239.42 495.84 245.36 497.17 250.07C498.5 254.79 500.31 262.3 500.94 264.75L500.94 264.75C501.05 263.53 501.4 259.68 501.57 257.41C501.75 255.14 501.78 253.15 501.99 251.12C502.2 249.1 502.59 246.82 502.83 245.25C503.07 243.68 503.18 242.67 503.46 241.69C503.74 240.71 504.16 239.91 504.51 239.38C504.86 238.86 505.14 238.44 505.56 238.54C505.97 238.65 506.5 239.31 507.02 240.01C507.55 240.71 507.55 240.01 508.7 242.74C509.85 245.46 512.37 252.17 513.94 256.36C515.51 260.56 517.44 265.97 518.13 267.89L518.13 267.89C518.27 266.5 518.73 261.95 518.97 259.51C519.22 257.06 519.36 255.07 519.6 253.22C519.85 251.37 520.16 249.79 520.44 248.4C520.72 247 520.96 245.81 521.28 244.83C521.59 243.85 521.98 243.05 522.33 242.53C522.68 242 522.96 241.58 523.38 241.69C523.79 241.79 524.32 242.46 524.84 243.16C525.37 243.85 525.54 243.5 526.52 245.88C527.5 248.26 529.49 253.92 530.71 257.41C531.94 260.9 532.98 264.33 533.86 266.84C534.73 269.36 535.6 271.56 535.95 272.51" fill="none" stroke="#17478c" stroke-width="1.55" stroke-linejoin="round" stroke-linecap="round"/>
<g fill="#f87c1f">
<circle cx="397.3" cy="268" r="1.6"/>
<circle cx="398.27" cy="257.58" r="1.6"/>
<circle cx="399.23" cy="249.17" r="1.6"/>
<circle cx="400.2" cy="244.34" r="1.6"/>
<circle cx="401.16" cy="248.34" r="1.6"/>
<circle cx="402.13" cy="248.92" r="1.6"/>
<circle cx="403.09" cy="251.35" r="1.6"/>
<circle cx="404.06" cy="253.78" r="1.6"/>
<circle cx="405.02" cy="256.04" r="1.6"/>
<circle cx="405.99" cy="258.19" r="1.6"/>
<circle cx="406.95" cy="260.33" r="1.6"/>
<circle cx="407.92" cy="262.22" r="1.6"/>
<circle cx="408.88" cy="264.11" r="1.6"/>
<circle cx="409.85" cy="265.99" r="1.6"/>
<circle cx="410.81" cy="267.73" r="1.6"/>
<circle cx="411.78" cy="269.37" r="1.6"/>
<circle cx="412.74" cy="271" r="1.6"/>
<circle cx="413.71" cy="272.66" r="1.6"/>
<circle cx="414.68" cy="274.33" r="1.6"/>
<circle cx="415.64" cy="265.58" r="1.6"/>
<circle cx="416.61" cy="258.75" r="1.6"/>
<circle cx="417.57" cy="254.34" r="1.6"/>
<circle cx="418.54" cy="252.09" r="1.6"/>
<circle cx="419.5" cy="252.12" r="1.6"/>
<circle cx="420.47" cy="253.45" r="1.6"/>
<circle cx="421.43" cy="254.79" r="1.6"/>
<circle cx="422.4" cy="256.43" r="1.6"/>
<circle cx="423.36" cy="258.55" r="1.6"/>
<circle cx="424.33" cy="260.41" r="1.6"/>
<circle cx="425.29" cy="261.18" r="1.6"/>
<circle cx="426.26" cy="261.96" r="1.6"/>
<circle cx="427.22" cy="263.2" r="1.6"/>
<circle cx="428.19" cy="266.3" r="1.6"/>
<circle cx="429.15" cy="268.54" r="1.6"/>
<circle cx="430.12" cy="270.58" r="1.6"/>
<circle cx="431.08" cy="272.33" r="1.6"/>
<circle cx="432.05" cy="274.08" r="1.6"/>
<circle cx="433.02" cy="275.38" r="1.6"/>
<circle cx="433.98" cy="276.38" r="1.6"/>
<circle cx="434.95" cy="276.94" r="1.6"/>
<circle cx="435.91" cy="277.49" r="1.6"/>
<circle cx="436.88" cy="278.2" r="1.6"/>
<circle cx="437.84" cy="279.15" r="1.6"/>
<circle cx="438.81" cy="280.09" r="1.6"/>
<circle cx="439.77" cy="280.92" r="1.6"/>
<circle cx="440.74" cy="281.58" r="1.6"/>
<circle cx="441.7" cy="282.23" r="1.6"/>
<circle cx="442.67" cy="282.88" r="1.6"/>
<circle cx="443.63" cy="283.54" r="1.6"/>
<circle cx="444.6" cy="284.22" r="1.6"/>
<circle cx="445.56" cy="284.89" r="1.6"/>
<circle cx="446.53" cy="285.57" r="1.6"/>
<circle cx="447.49" cy="286.24" r="1.6"/>
<circle cx="448.46" cy="286.79" r="1.6"/>
<circle cx="449.43" cy="287.33" r="1.6"/>
<circle cx="450.39" cy="287.75" r="1.6"/>
<circle cx="451.36" cy="286.98" r="1.6"/>
<circle cx="452.32" cy="286.22" r="1.6"/>
<circle cx="453.29" cy="285.46" r="1.6"/>
<circle cx="454.25" cy="285.18" r="1.6"/>
<circle cx="455.22" cy="285.39" r="1.6"/>
<circle cx="456.18" cy="285.59" r="1.6"/>
<circle cx="457.15" cy="285.8" r="1.6"/>
<circle cx="458.11" cy="286.52" r="1.6"/>
<circle cx="459.08" cy="287.29" r="1.6"/>
<circle cx="460.04" cy="288.07" r="1.6"/>
<circle cx="461.01" cy="288.84" r="1.6"/>
<circle cx="461.97" cy="289.66" r="1.6"/>
<circle cx="462.94" cy="290.49" r="1.6"/>
<circle cx="463.9" cy="291.32" r="1.6"/>
<circle cx="464.87" cy="292.1" r="1.6"/>
<circle cx="465.83" cy="292.84" r="1.6"/>
<circle cx="466.8" cy="293.57" r="1.6"/>
<circle cx="467.77" cy="286.91" r="1.6"/>
<circle cx="468.73" cy="276.74" r="1.6"/>
<circle cx="469.7" cy="266.5" r="1.6"/>
<circle cx="470.66" cy="262.33" r="1.6"/>
<circle cx="471.63" cy="260.54" r="1.6"/>
<circle cx="472.59" cy="258.75" r="1.6"/>
<circle cx="473.56" cy="257.83" r="1.6"/>
<circle cx="474.52" cy="256.92" r="1.6"/>
<circle cx="475.49" cy="258.24" r="1.6"/>
<circle cx="476.45" cy="259.56" r="1.6"/>
<circle cx="477.42" cy="260.88" r="1.6"/>
<circle cx="478.38" cy="262.2" r="1.6"/>
<circle cx="479.35" cy="263.65" r="1.6"/>
<circle cx="480.31" cy="265.11" r="1.6"/>
<circle cx="481.28" cy="266.58" r="1.6"/>
<circle cx="482.24" cy="268.18" r="1.6"/>
<circle cx="483.21" cy="270.34" r="1.6"/>
<circle cx="484.17" cy="272.5" r="1.6"/>
<circle cx="485.14" cy="263.75" r="1.6"/>
<circle cx="486.11" cy="251.92" r="1.6"/>
<circle cx="487.07" cy="249.5" r="1.6"/>
<circle cx="488.04" cy="247.09" r="1.6"/>
<circle cx="489" cy="245.76" r="1.6"/>
<circle cx="489.97" cy="244.42" r="1.6"/>
<circle cx="490.93" cy="245.92" r="1.6"/>
<circle cx="491.9" cy="247.41" r="1.6"/>
<circle cx="492.86" cy="249.14" r="1.6"/>
<circle cx="493.83" cy="251.02" r="1.6"/>
<circle cx="494.79" cy="252.91" r="1.6"/>
<circle cx="495.76" cy="254.79" r="1.6"/>
<circle cx="496.72" cy="256.42" r="1.6"/>
<circle cx="497.69" cy="257.98" r="1.6"/>
<circle cx="498.65" cy="259.53" r="1.6"/>
<circle cx="499.62" cy="261.09" r="1.6"/>
<circle cx="500.58" cy="262.75" r="1.6"/>
<circle cx="501.55" cy="264.42" r="1.6"/>
<circle cx="502.52" cy="252.92" r="1.6"/>
<circle cx="503.48" cy="240.84" r="1.6"/>
<circle cx="504.45" cy="237.26" r="1.6"/>
<circle cx="505.41" cy="237.51" r="1.6"/>
<circle cx="506.38" cy="239.02" r="1.6"/>
<circle cx="507.34" cy="240.54" r="1.6"/>
<circle cx="508.31" cy="242.37" r="1.6"/>
<circle cx="509.27" cy="244.28" r="1.6"/>
<circle cx="510.24" cy="246.2" r="1.6"/>
<circle cx="511.2" cy="248.11" r="1.6"/>
<circle cx="512.17" cy="249.94" r="1.6"/>
<circle cx="513.13" cy="251.66" r="1.6"/>
<circle cx="514.1" cy="253.39" r="1.6"/>
<circle cx="515.06" cy="255.11" r="1.6"/>
<circle cx="516.03" cy="256.83" r="1.6"/>
<circle cx="516.99" cy="257.71" r="1.6"/>
<circle cx="517.96" cy="258.5" r="1.6"/>
<circle cx="518.92" cy="251.59" r="1.6"/>
<circle cx="519.89" cy="246.84" r="1.6"/>
<circle cx="520.86" cy="244.42" r="1.6"/>
<circle cx="521.82" cy="253.59" r="1.6"/>
<circle cx="522.79" cy="253.78" r="1.6"/>
<circle cx="523.75" cy="253.98" r="1.6"/>
<circle cx="524.72" cy="254.17" r="1.6"/>
<circle cx="525.68" cy="254.43" r="1.6"/>
<circle cx="526.65" cy="254.7" r="1.6"/>
<circle cx="527.61" cy="254.96" r="1.6"/>
<circle cx="528.58" cy="255.34" r="1.6"/>
<circle cx="529.54" cy="256.17" r="1.6"/>
<circle cx="530.51" cy="257" r="1.6"/>
<circle cx="531.47" cy="257.83" r="1.6"/>
<circle cx="532.44" cy="259.72" r="1.6"/>
<circle cx="533.4" cy="261.87" r="1.6"/>
<circle cx="534.37" cy="263.98" r="1.6"/>
<circle cx="535.33" cy="265.95" r="1.6"/>
<circle cx="536.3" cy="267.91" r="1.6"/>
</g>
</g>
<g>
<g font-size="6.21" fill="#707070" text-anchor="end">
<text x="211.8" y="410.24">0</text>
<text x="211.8" y="400.97">100</text>
<text x="211.8" y="391.7">200</text>
<text x="211.8" y="382.44">300</text>
<text x="211.8" y="373.17">400</text>
<text x="211.8" y="363.9">500</text>
<text x="211.8" y="354.64">600</text>
<text x="211.8" y="345.37">700</text>
<text x="211.8" y="336.1">800</text>
<text x="211.8" y="326.84">900</text>
</g>
<line x1="216.5" y1="409.7" x2="360.7" y2="409.7" stroke="#d9d9d9" stroke-width="2.2"/>
<g font-size="6.21" fill="#707070" text-anchor="middle">
<text x="217" y="418.24">1</text>
<text x="234.9" y="418.24">181</text>
<text x="252.8" y="418.24">361</text>
<text x="270.7" y="418.24">541</text>
<text x="288.6" y="418.24">721</text>
<text x="306.5" y="418.24">901</text>
<text x="324.4" y="418.24">1081</text>
<text x="342.3" y="418.24">1261</text>
<text x="360.2" y="418.24">1441</text>
</g>
<path d="M217.01 378.28C217.08 377.48 217.26 375.14 217.43 373.46C217.61 371.78 217.78 370.21 218.06 368.22C218.34 366.23 218.76 363.43 219.11 361.51C219.46 359.59 219.81 358.02 220.16 356.69C220.51 355.36 220.86 354.24 221.21 353.54C221.55 352.84 221.83 352.42 222.25 352.49C222.67 352.56 223.2 353.26 223.72 353.96C224.25 354.66 224.25 354.49 225.4 356.69C226.55 358.89 229.14 364.37 230.64 367.17C232.14 369.97 233.78 372.41 234.41 373.46L234.41 373.46C234.52 372.52 234.8 369.72 235.04 367.8C235.29 365.88 235.57 363.71 235.88 361.93C236.19 360.15 236.58 358.5 236.93 357.11C237.28 355.71 237.59 354.49 237.98 353.54C238.36 352.6 238.78 351.97 239.23 351.45C239.69 350.92 240.21 350.47 240.7 350.4C241.19 350.33 241.68 350.68 242.17 351.03C242.66 351.38 243.01 351.38 243.64 352.49C244.27 353.61 245.14 355.81 245.94 357.74C246.75 359.66 247.69 362.1 248.46 364.03C249.23 365.95 249.86 367.87 250.56 369.27C251.25 370.66 252.06 371.89 252.65 372.41C253.25 372.94 253.6 372.41 254.12 372.41C254.64 372.41 255.17 371.99 255.8 372.41C256.43 372.83 257.19 373.88 257.89 374.93C258.59 375.97 258.94 376.5 259.99 378.7C261.04 380.9 262.78 385.51 264.18 388.13C265.58 390.75 267.26 392.85 268.38 394.42C269.49 396 270.47 397.04 270.89 397.57L270.89 397.57C271.1 396.97 271.69 395.05 272.15 394C272.6 392.96 273.2 391.98 273.62 391.28C274.04 390.58 274.32 390.16 274.66 389.81C275.01 389.46 275.19 389.08 275.71 389.18C276.24 389.29 277.11 389.92 277.81 390.44C278.51 390.96 278.68 390.79 279.91 392.33C281.13 393.86 283.75 397.92 285.15 399.66C286.54 401.41 287.77 402.29 288.29 402.81L288.29 402.81C288.4 401.59 288.75 397.74 288.92 395.47C289.1 393.2 289.13 392.33 289.34 389.18C289.55 386.04 289.9 380.8 290.18 376.6C290.46 372.41 290.7 367.69 291.02 364.03C291.33 360.36 291.72 357.39 292.06 354.59C292.41 351.8 292.67 349.07 293.11 347.25C293.55 345.44 294.23 344.56 294.71 343.69C295.18 342.82 295.51 342.12 295.96 342.01C296.42 341.91 296.91 342.54 297.43 343.06C297.96 343.58 298.13 342.89 299.11 345.16C300.09 347.43 302.08 353.37 303.3 356.69C304.52 360.01 305.92 363.68 306.45 365.07L306.45 365.07C306.55 363.5 306.9 358.26 307.08 355.64C307.25 353.02 307.25 351.52 307.49 349.35C307.74 347.18 308.19 344.56 308.54 342.64C308.89 340.72 309.21 339.15 309.59 337.82C309.98 336.49 310.39 335.48 310.85 334.68C311.3 333.87 311.79 333 312.32 333C312.84 333 313.4 333.87 313.99 334.68C314.59 335.48 314.87 335.37 315.88 337.82C316.89 340.27 318.75 345.51 320.07 349.35C321.4 353.19 323.22 358.96 323.85 360.88L323.85 360.88C323.99 359.31 324.44 354.07 324.69 351.45C324.93 348.83 325.03 347.15 325.31 345.16C325.59 343.17 326.01 341.07 326.36 339.5C326.71 337.92 327.03 336.74 327.41 335.72C327.8 334.71 328.21 333.94 328.67 333.42C329.12 332.89 329.61 332.4 330.14 332.58C330.66 332.75 331.22 333.59 331.81 334.47C332.41 335.34 332.69 335.34 333.7 337.82C334.71 340.3 336.5 345.75 337.89 349.35C339.29 352.95 341.39 357.74 342.09 359.41L342.09 359.41C342.23 358.71 342.65 356.37 342.92 355.22C343.2 354.07 343.41 353.3 343.76 352.49C344.11 351.69 344.6 350.85 345.02 350.4C345.44 349.94 345.79 349.7 346.28 349.77C346.77 349.84 347.43 350.36 347.96 350.82C348.48 351.27 348.48 350.64 349.42 352.49C350.37 354.35 352.22 358.61 353.62 361.93C355.01 365.25 356.76 369.79 357.81 372.41C358.86 375.03 359.56 376.78 359.91 377.65" fill="none" stroke="#9c3a0c" stroke-width="1.5" stroke-linejoin="round" stroke-linecap="round"/>
<g fill="#f87c1f">
<circle cx="217" cy="370.87" r="1.6"/>
<circle cx="217.99" cy="359.29" r="1.6"/>
<circle cx="218.99" cy="349.93" r="1.6"/>
<circle cx="219.98" cy="344.56" r="1.6"/>
<circle cx="220.98" cy="349" r="1.6"/>
<circle cx="221.97" cy="349.65" r="1.6"/>
<circle cx="222.97" cy="352.35" r="1.6"/>
<circle cx="223.96" cy="355.06" r="1.6"/>
<circle cx="224.96" cy="357.57" r="1.6"/>
<circle cx="225.95" cy="359.96" r="1.6"/>
<circle cx="226.94" cy="362.35" r="1.6"/>
<circle cx="227.94" cy="364.45" r="1.6"/>
<circle cx="228.93" cy="366.54" r="1.6"/>
<circle cx="229.93" cy="368.64" r="1.6"/>
<circle cx="230.92" cy="370.58" r="1.6"/>
<circle cx="231.92" cy="372.4" r="1.6"/>
<circle cx="232.91" cy="374.22" r="1.6"/>
<circle cx="233.91" cy="376.06" r="1.6"/>
<circle cx="234.9" cy="377.92" r="1.6"/>
<circle cx="235.89" cy="368.19" r="1.6"/>
<circle cx="236.89" cy="360.59" r="1.6"/>
<circle cx="237.88" cy="355.68" r="1.6"/>
<circle cx="238.88" cy="353.17" r="1.6"/>
<circle cx="239.87" cy="353.21" r="1.6"/>
<circle cx="240.87" cy="354.69" r="1.6"/>
<circle cx="241.86" cy="356.18" r="1.6"/>
<circle cx="242.86" cy="358.01" r="1.6"/>
<circle cx="243.85" cy="360.37" r="1.6"/>
<circle cx="244.84" cy="362.43" r="1.6"/>
<circle cx="245.84" cy="363.29" r="1.6"/>
<circle cx="246.83" cy="364.16" r="1.6"/>
<circle cx="247.83" cy="365.54" r="1.6"/>
<circle cx="248.82" cy="368.98" r="1.6"/>
<circle cx="249.82" cy="371.48" r="1.6"/>
<circle cx="250.81" cy="373.75" r="1.6"/>
<circle cx="251.81" cy="375.69" r="1.6"/>
<circle cx="252.8" cy="377.64" r="1.6"/>
<circle cx="253.79" cy="379.09" r="1.6"/>
<circle cx="254.79" cy="380.2" r="1.6"/>
<circle cx="255.78" cy="380.82" r="1.6"/>
<circle cx="256.78" cy="381.44" r="1.6"/>
<circle cx="257.77" cy="382.23" r="1.6"/>
<circle cx="258.77" cy="383.28" r="1.6"/>
<circle cx="259.76" cy="384.33" r="1.6"/>
<circle cx="260.76" cy="385.25" r="1.6"/>
<circle cx="261.75" cy="385.98" r="1.6"/>
<circle cx="262.74" cy="386.71" r="1.6"/>
<circle cx="263.74" cy="387.43" r="1.6"/>
<circle cx="264.73" cy="388.17" r="1.6"/>
<circle cx="265.73" cy="388.92" r="1.6"/>
<circle cx="266.72" cy="389.67" r="1.6"/>
<circle cx="267.72" cy="390.42" r="1.6"/>
<circle cx="268.71" cy="391.17" r="1.6"/>
<circle cx="269.71" cy="391.77" r="1.6"/>
<circle cx="270.7" cy="392.38" r="1.6"/>
<circle cx="271.69" cy="392.84" r="1.6"/>
<circle cx="272.69" cy="391.99" r="1.6"/>
<circle cx="273.68" cy="391.14" r="1.6"/>
<circle cx="274.68" cy="390.29" r="1.6"/>
<circle cx="275.67" cy="389.99" r="1.6"/>
<circle cx="276.67" cy="390.22" r="1.6"/>
<circle cx="277.66" cy="390.45" r="1.6"/>
<circle cx="278.66" cy="390.68" r="1.6"/>
<circle cx="279.65" cy="391.48" r="1.6"/>
<circle cx="280.64" cy="392.34" r="1.6"/>
<circle cx="281.64" cy="393.2" r="1.6"/>
<circle cx="282.63" cy="394.06" r="1.6"/>
<circle cx="283.63" cy="394.97" r="1.6"/>
<circle cx="284.62" cy="395.89" r="1.6"/>
<circle cx="285.62" cy="396.82" r="1.6"/>
<circle cx="286.61" cy="397.69" r="1.6"/>
<circle cx="287.61" cy="398.51" r="1.6"/>
<circle cx="288.6" cy="399.32" r="1.6"/>
<circle cx="289.59" cy="391.91" r="1.6"/>
<circle cx="290.59" cy="380.6" r="1.6"/>
<circle cx="291.58" cy="369.2" r="1.6"/>
<circle cx="292.58" cy="364.57" r="1.6"/>
<circle cx="293.57" cy="362.58" r="1.6"/>
<circle cx="294.57" cy="360.59" r="1.6"/>
<circle cx="295.56" cy="359.57" r="1.6"/>
<circle cx="296.56" cy="358.55" r="1.6"/>
<circle cx="297.55" cy="360.02" r="1.6"/>
<circle cx="298.54" cy="361.49" r="1.6"/>
<circle cx="299.54" cy="362.96" r="1.6"/>
<circle cx="300.53" cy="364.42" r="1.6"/>
<circle cx="301.53" cy="366.04" r="1.6"/>
<circle cx="302.52" cy="367.66" r="1.6"/>
<circle cx="303.52" cy="369.29" r="1.6"/>
<circle cx="304.51" cy="371.07" r="1.6"/>
<circle cx="305.51" cy="373.48" r="1.6"/>
<circle cx="306.5" cy="375.88" r="1.6"/>
<circle cx="307.49" cy="366.15" r="1.6"/>
<circle cx="308.49" cy="352.99" r="1.6"/>
<circle cx="309.48" cy="350.3" r="1.6"/>
<circle cx="310.48" cy="347.61" r="1.6"/>
<circle cx="311.47" cy="346.13" r="1.6"/>
<circle cx="312.47" cy="344.65" r="1.6"/>
<circle cx="313.46" cy="346.31" r="1.6"/>
<circle cx="314.46" cy="347.97" r="1.6"/>
<circle cx="315.45" cy="349.89" r="1.6"/>
<circle cx="316.44" cy="351.99" r="1.6"/>
<circle cx="317.44" cy="354.09" r="1.6"/>
<circle cx="318.43" cy="356.18" r="1.6"/>
<circle cx="319.43" cy="357.99" r="1.6"/>
<circle cx="320.42" cy="359.72" r="1.6"/>
<circle cx="321.42" cy="361.46" r="1.6"/>
<circle cx="322.41" cy="363.19" r="1.6"/>
<circle cx="323.41" cy="365.03" r="1.6"/>
<circle cx="324.4" cy="366.89" r="1.6"/>
<circle cx="325.39" cy="354.1" r="1.6"/>
<circle cx="326.39" cy="340.66" r="1.6"/>
<circle cx="327.38" cy="336.68" r="1.6"/>
<circle cx="328.38" cy="336.96" r="1.6"/>
<circle cx="329.37" cy="338.64" r="1.6"/>
<circle cx="330.37" cy="340.33" r="1.6"/>
<circle cx="331.36" cy="342.37" r="1.6"/>
<circle cx="332.36" cy="344.49" r="1.6"/>
<circle cx="333.35" cy="346.62" r="1.6"/>
<circle cx="334.34" cy="348.75" r="1.6"/>
<circle cx="335.34" cy="350.79" r="1.6"/>
<circle cx="336.33" cy="352.7" r="1.6"/>
<circle cx="337.33" cy="354.62" r="1.6"/>
<circle cx="338.32" cy="356.53" r="1.6"/>
<circle cx="339.32" cy="358.45" r="1.6"/>
<circle cx="340.31" cy="359.43" r="1.6"/>
<circle cx="341.31" cy="360.31" r="1.6"/>
<circle cx="342.3" cy="352.62" r="1.6"/>
<circle cx="343.29" cy="347.34" r="1.6"/>
<circle cx="344.29" cy="344.65" r="1.6"/>
<circle cx="345.28" cy="354.84" r="1.6"/>
<circle cx="346.28" cy="355.06" r="1.6"/>
<circle cx="347.27" cy="355.27" r="1.6"/>
<circle cx="348.27" cy="355.49" r="1.6"/>
<circle cx="349.26" cy="355.78" r="1.6"/>
<circle cx="350.26" cy="356.08" r="1.6"/>
<circle cx="351.25" cy="356.37" r="1.6"/>
<circle cx="352.24" cy="356.79" r="1.6"/>
<circle cx="353.24" cy="357.71" r="1.6"/>
<circle cx="354.23" cy="358.64" r="1.6"/>
<circle cx="355.23" cy="359.57" r="1.6"/>
<circle cx="356.22" cy="361.66" r="1.6"/>
<circle cx="357.22" cy="364.05" r="1.6"/>
<circle cx="358.21" cy="366.4" r="1.6"/>
<circle cx="359.21" cy="368.59" r="1.6"/>
<circle cx="360.2" cy="370.78" r="1.6"/>
</g>
</g>
<g font-size="6.8" font-weight="bold" fill="#000000" text-anchor="middle">
<text x="357.35" y="70.2" text-decoration="underline">Timepoints (min)</text>
<text x="357.35" y="78.4">0,30,60,90</text>
</g>
<g font-size="6.8" font-weight="bold" fill="#000000" text-anchor="middle">
<text x="89.35" y="107.9" text-decoration="underline">Timepoints (min)</text>
<text x="89.35" y="115.7">180,210,240,270</text>
</g>
<g font-size="6.8" font-weight="bold" fill="#000000" text-anchor="middle">
<text x="262.9" y="115.3" text-decoration="underline">Timepoints (min)</text>
<text x="262.9" y="123.5">360,390,420,450</text>
</g>
<g font-size="6.8" font-weight="bold" fill="#000000" text-anchor="middle">
<text x="438.35" y="108.2" text-decoration="underline">Timepoints (min)</text>
<text x="438.35" y="116">540,570,610,640</text>
</g>
<g font-size="6.8" font-weight="bold" fill="#000000" text-anchor="middle">
<text x="89.4" y="219.1" text-decoration="underline">Timepoints (min)</text>
<text x="89.4" y="226.6">720,750,780,810</text>
</g>
<g font-size="6.8" font-weight="bold" fill="#000000" text-anchor="middle">
<text x="262.9" y="219.1" text-decoration="underline">Timepoints (min)</text>
<text x="262.9" y="226.6">900,930,960,990</text>
</g>
<g font-size="6.8" font-weight="bold" fill="#000000" text-anchor="middle">
<text x="439.9" y="219.1" text-decoration="underline">Timepoints (min)</text>
<text x="439.9" y="226.6">1080,1110,1140,1170</text>
</g>
<g font-size="6.8" font-weight="bold" fill="#000000" text-anchor="middle">
<text x="408.65" y="350.8" text-decoration="underline">Timepoints (min)</text>
<text x="408.65" y="358.4">1260,1290,1320,1350</text>
</g>
<polygon points="221,55.7 228.35,63.6 225.05,63.6 225.05,76.7 216.95,76.7 216.95,63.6 213.65,63.6" fill="#000000"/>
<polygon points="62,170.9 69.3,178.6 66.05,178.6 66.05,191.9 57.95,191.9 57.95,178.6 54.7,178.6" fill="#000000"/>
<polygon points="260.9,163.7 268.3,156.1 264.9,156.1 264.9,143 256.9,143 256.9,156.1 253.5,156.1" fill="#000000"/>
<polygon points="449.4,167.8 456.8,160.2 453.4,160.2 453.4,147.1 445.4,147.1 445.4,160.2 442,160.2" fill="#000000"/>
<polygon points="115.4,249.5 122.8,242.1 119.4,242.1 119.4,233.7 111.4,233.7 111.4,242.1 108,242.1" fill="#000000"/>
<polygon points="309.3,274.9 316.7,282.6 313.4,282.6 313.4,295.9 305.2,295.9 305.2,282.6 301.9,282.6" fill="#000000"/>
<polygon points="502.6,268.7 509.85,276.3 506.6,276.3 506.6,289.7 498.6,289.7 498.6,276.3 495.35,276.3" fill="#000000"/>
<polygon points="343.4,366.9 350.75,374.5 347.4,374.5 347.4,387.5 339.4,387.5 339.4,374.5 336.05,374.5" fill="#000000"/>
<text transform="translate(20.3 415.4) rotate(-90) scale(0.98 1)" font-weight="bold" fill="#000000" font-size="13.8">Plasma CORT levels (nmol/L) prediction</text>
<text transform="translate(20.3 153.9) rotate(-90) scale(0.98 1)" font-weight="bold" fill="#000000" font-size="11.3">– Pulses Study subject 1</text>
<text x="287" y="440.7" font-size="12.45" font-weight="bold" text-anchor="middle" fill="#000000">Time (minutes)</text>
<rect x="187.7" y="456" width="8.2" height="12.7" fill="#f8822a" stroke="#e0661a" stroke-width="0.9"/>
<text x="200.9" y="467" font-size="12.4" font-style="italic" fill="#111111">Actual biochemical measurements</text>
</svg>
</body></html>
